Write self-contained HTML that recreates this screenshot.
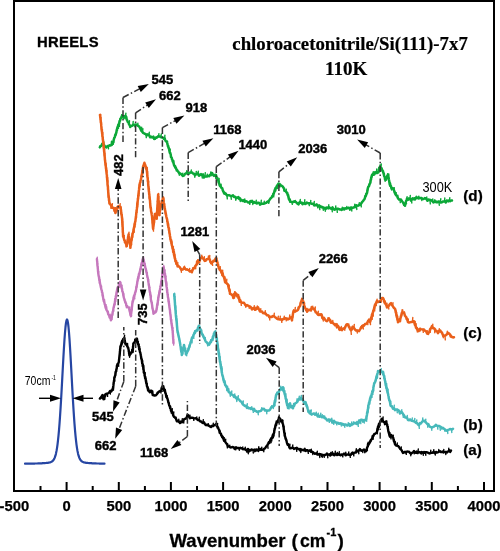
<!DOCTYPE html>
<html><head><meta charset="utf-8"><style>
html,body{margin:0;padding:0;background:#fff;}
svg{display:block;filter:blur(0.3px);}
text{font-family:"Liberation Sans",Arial,sans-serif;}
.serif{font-family:"Liberation Serif","Times New Roman",serif;}
</style></head><body>
<svg width="500" height="551" viewBox="0 0 500 551">
<rect x="0" y="0" width="500" height="551" fill="#fff"/>
<g fill="none" stroke-linejoin="round" stroke-linecap="round">
<path d="M99.8,147.4 L100.4,145.9 L101.0,146.0 L101.6,145.6 L102.2,143.9 L103.4,144.3 L104.6,145.8 L105.4,146.6 L106.2,147.5 L107.0,146.7 L107.8,145.9 L108.6,146.2 L109.4,145.3 L110.6,145.5 L111.8,144.8 L112.3,143.1 L112.9,141.9 L113.4,142.4 L113.7,139.9 L114.0,138.8 L114.3,137.7 L114.6,137.5 L114.9,136.6 L115.2,135.4 L115.5,134.7 L115.8,134.0 L116.0,133.4 L116.3,132.8 L116.5,131.5 L116.8,129.6 L117.0,130.2 L117.2,128.2 L117.5,128.1 L117.7,126.6 L118.0,126.6 L118.2,125.4 L118.5,125.1 L118.7,126.0 L119.0,123.4 L119.3,123.1 L119.5,121.1 L119.8,120.8 L120.1,120.6 L120.3,119.3 L120.6,118.8 L121.4,117.5 L122.2,115.6 L123.8,118.1 L124.6,116.1 L125.4,116.4 L125.7,116.1 L126.0,117.7 L126.4,118.3 L126.7,119.8 L127.0,119.9 L127.8,122.0 L128.6,122.5 L128.9,124.1 L129.2,124.5 L129.6,125.1 L129.9,125.4 L130.2,127.0 L131.0,126.1 L131.8,125.9 L133.4,124.8 L134.2,125.0 L135.0,124.8 L135.8,124.4 L137.0,125.1 L138.2,125.9 L138.8,126.3 L139.4,126.8 L140.0,128.0 L140.6,129.3 L141.4,130.9 L142.2,131.7 L143.0,132.8 L143.8,133.2 L144.6,133.7 L145.4,133.9 L146.2,134.5 L147.0,135.3 L147.8,134.4 L149.0,135.0 L150.2,137.3 L151.0,136.6 L151.8,137.3 L152.6,137.5 L153.4,136.6 L154.2,138.9 L155.0,138.8 L155.8,137.6 L156.6,137.7 L157.4,137.1 L158.2,136.2 L159.0,136.4 L159.8,136.4 L161.0,137.2 L162.2,137.4 L163.0,137.6 L163.8,138.8 L164.6,138.2 L165.2,140.0 L165.8,141.2 L166.4,141.4 L167.0,141.5 L167.2,142.8 L167.5,144.3 L167.8,145.2 L168.0,146.6 L168.2,146.0 L168.5,147.4 L168.8,148.6 L169.0,148.9 L169.2,148.5 L169.5,151.2 L169.8,152.8 L170.0,153.0 L170.2,152.7 L170.5,153.9 L170.8,155.1 L171.0,157.2 L171.3,157.1 L171.7,157.7 L172.0,159.5 L172.3,159.5 L172.7,161.5 L173.0,161.0 L173.3,162.1 L173.7,163.7 L174.0,165.0 L174.3,165.5 L174.7,166.2 L175.0,166.0 L175.7,167.7 L176.3,168.8 L177.0,169.9 L177.7,171.3 L178.3,171.6 L179.0,173.0 L180.0,173.4 L181.0,174.0 L182.0,175.1 L183.0,176.0 L184.0,175.5 L185.0,173.9 L186.0,173.5 L187.0,172.3 L188.0,173.8 L189.0,173.6 L190.0,172.5 L191.0,172.6 L192.0,172.4 L193.0,173.5 L194.0,173.8 L195.0,175.2 L196.0,174.3 L197.0,174.0 L198.0,173.4 L199.0,175.8 L200.0,175.1 L201.0,174.1 L202.0,175.1 L203.0,174.4 L204.0,177.5 L205.0,176.4 L206.0,176.5 L207.0,176.4 L208.0,175.7 L209.0,176.3 L210.0,174.9 L210.7,175.3 L211.3,173.0 L212.0,172.9 L213.0,174.9 L214.0,175.9 L215.0,174.7 L216.0,174.9 L216.4,177.1 L216.8,178.0 L217.2,177.8 L217.6,178.8 L218.0,179.6 L218.3,180.2 L218.7,181.3 L219.0,183.2 L219.3,183.8 L219.7,185.4 L220.0,185.0 L220.3,185.8 L220.7,186.2 L221.0,187.5 L221.6,187.7 L222.2,188.2 L222.8,190.4 L223.4,191.6 L224.0,192.1 L224.6,193.1 L225.2,193.3 L225.8,193.6 L226.4,194.8 L227.0,195.4 L228.0,195.2 L229.0,195.2 L230.0,195.6 L231.0,196.1 L232.0,196.0 L233.0,195.3 L234.0,196.9 L235.0,196.8 L236.0,197.5 L236.8,198.2 L237.6,197.4 L238.4,197.1 L239.2,198.9 L240.0,198.4 L240.8,200.0 L241.6,199.9 L242.4,200.8 L243.2,201.1 L244.0,200.0 L244.8,201.8 L245.6,201.1 L246.4,201.3 L247.2,201.6 L248.0,202.4 L248.8,202.5 L249.6,202.6 L250.4,201.1 L251.2,201.7 L252.0,200.7 L252.8,202.1 L253.6,202.7 L254.4,202.1 L255.2,202.8 L256.0,202.9 L256.8,203.5 L257.6,202.7 L258.4,202.8 L259.2,203.0 L260.0,204.6 L260.8,204.2 L261.6,203.5 L262.4,203.7 L263.2,203.7 L264.0,203.7 L265.0,203.2 L266.0,202.9 L267.0,202.1 L267.7,201.6 L268.3,202.1 L269.0,200.7 L269.7,199.6 L270.3,198.7 L271.0,198.0 L271.7,197.4 L272.3,196.0 L273.0,195.7 L273.4,194.8 L273.8,193.3 L274.2,192.3 L274.6,191.2 L275.0,190.2 L275.3,190.5 L275.7,187.9 L276.0,188.3 L276.3,187.3 L276.7,186.5 L277.0,186.1 L277.5,185.8 L278.0,184.4 L278.5,183.5 L279.3,183.8 L280.2,184.6 L281.0,185.7 L281.7,185.8 L282.3,186.2 L283.0,186.9 L283.5,187.8 L284.0,188.4 L284.5,190.6 L285.0,191.0 L286.0,191.5 L287.0,193.2 L287.2,192.8 L287.5,194.4 L287.8,195.2 L288.0,194.7 L288.2,195.5 L288.5,196.7 L288.8,198.5 L289.0,199.5 L289.7,199.2 L290.3,201.5 L291.0,201.8 L291.8,201.9 L292.6,201.9 L293.4,202.1 L294.2,201.3 L295.0,201.8 L295.8,201.8 L296.7,202.8 L297.5,203.8 L298.3,204.3 L299.2,202.6 L300.0,201.9 L300.8,202.8 L301.7,202.6 L302.5,204.3 L303.3,203.6 L304.2,203.0 L305.0,204.0 L305.8,203.8 L306.7,202.5 L307.5,203.1 L308.3,203.2 L309.2,203.3 L310.0,203.3 L310.8,203.3 L311.7,203.8 L312.5,203.7 L313.3,203.8 L314.2,205.4 L315.0,205.0 L315.8,205.3 L316.7,204.4 L317.5,205.5 L318.3,206.3 L319.2,205.4 L320.0,207.0 L320.8,206.4 L321.7,207.2 L322.5,207.1 L323.3,207.6 L324.2,208.4 L325.0,207.8 L325.8,208.9 L326.7,207.6 L327.5,207.5 L328.3,208.4 L329.2,207.4 L330.0,207.8 L330.8,208.6 L331.7,208.9 L332.5,207.4 L333.3,208.8 L334.2,209.7 L335.0,209.5 L335.8,208.8 L336.7,208.7 L337.5,209.0 L338.3,208.7 L339.2,209.3 L340.0,209.5 L340.8,209.4 L341.7,210.0 L342.5,209.1 L343.3,208.3 L344.2,209.5 L345.0,208.2 L345.8,208.4 L346.7,208.5 L347.5,208.2 L348.3,207.7 L349.2,208.0 L350.0,209.2 L350.8,207.4 L351.7,207.5 L352.5,208.0 L353.3,207.6 L354.2,207.3 L355.0,207.2 L356.0,205.2 L357.0,205.5 L358.0,205.7 L359.0,205.1 L360.0,204.9 L361.0,203.7 L362.0,202.2 L363.0,201.2 L363.5,200.3 L364.0,199.7 L364.5,199.1 L365.0,197.7 L365.2,196.6 L365.5,195.8 L365.8,196.0 L366.0,195.3 L366.5,194.1 L367.0,192.9 L367.2,192.0 L367.4,190.6 L367.6,190.1 L367.8,188.3 L368.0,187.9 L368.5,186.5 L369.0,186.2 L369.5,184.4 L370.0,183.5 L370.2,182.9 L370.4,182.6 L370.6,180.5 L370.8,179.6 L371.0,179.7 L371.2,177.6 L371.5,177.6 L371.8,176.0 L372.0,175.3 L373.0,173.8 L374.0,174.7 L375.0,173.2 L376.0,172.1 L377.0,173.2 L378.0,171.9 L378.5,172.4 L379.0,169.5 L379.5,168.3 L380.0,167.8 L381.0,168.0 L381.5,168.2 L382.0,169.6 L382.5,170.7 L383.0,171.0 L383.2,172.4 L383.5,172.9 L383.8,173.3 L384.0,175.3 L384.2,176.1 L384.4,176.6 L384.6,176.9 L384.8,177.2 L385.0,179.5 L386.0,179.7 L386.3,177.9 L386.7,177.9 L387.0,176.1 L387.5,175.9 L388.0,174.9 L388.2,175.9 L388.3,176.8 L388.5,177.6 L388.7,177.8 L388.8,179.2 L389.0,180.0 L389.2,181.0 L389.4,182.2 L389.6,183.3 L389.8,184.7 L390.0,183.3 L390.5,185.7 L391.0,186.2 L391.5,188.4 L392.0,188.5 L393.0,188.2 L394.0,190.4 L394.2,190.7 L394.5,192.4 L394.8,192.1 L395.0,193.4 L395.5,194.3 L396.0,195.1 L396.5,195.6 L397.0,195.8 L398.0,198.2 L399.0,199.6 L400.0,199.5 L401.0,199.5 L402.0,201.3 L403.0,202.6 L403.5,203.3 L404.0,204.5 L405.0,205.8 L405.3,203.5 L405.7,202.9 L406.0,201.2 L406.2,201.1 L406.5,200.2 L406.8,199.3 L407.0,198.6 L408.0,199.8 L409.0,198.4 L410.0,198.9 L411.0,200.7 L411.8,199.3 L412.6,198.2 L413.4,199.2 L414.2,198.3 L415.0,199.5 L415.8,197.8 L416.7,198.1 L417.5,197.5 L418.3,198.4 L419.2,197.7 L420.0,198.2 L420.8,198.1 L421.7,198.0 L422.5,198.9 L423.3,199.0 L424.2,198.6 L425.0,198.1 L425.8,198.3 L426.7,199.4 L427.5,200.8 L428.3,199.5 L429.2,199.7 L430.0,200.0 L430.8,200.1 L431.7,200.5 L432.5,201.2 L433.3,202.4 L434.2,201.9 L435.0,201.9 L435.8,201.3 L436.7,202.3 L437.5,202.2 L438.3,201.5 L439.2,201.6 L440.0,202.2 L440.8,202.6 L441.7,202.3 L442.5,201.9 L443.3,201.4 L444.2,201.6 L445.0,201.3 L445.8,202.4 L446.7,200.4 L447.5,200.6 L448.3,201.4 L449.2,200.4 L450.0,201.2 L451.0,200.4 L452.0,200.4" stroke="#0ca838" stroke-width="2.5"/>
<path d="M103.4,145.0L103.7,141.5M108.2,146.2L108.5,148.8M111.2,144.4L111.5,141.3M113.1,141.5L113.4,144.3M114.8,136.9L115.1,134.3M116.1,132.8L116.4,134.8M117.0,129.8L117.3,127.1M117.6,127.8L117.9,124.5M118.2,125.8L118.5,128.3M119.2,122.7L119.5,126.2M119.7,121.2L120.0,118.5M121.4,117.4L121.7,114.6M125.6,115.9L125.9,113.1M126.5,118.6L126.8,116.7M129.2,124.1L129.5,120.8M132.9,125.0L133.2,121.4M134.6,124.6L134.9,126.9M137.6,125.4L137.9,123.2M141.4,130.1L141.7,127.2M142.6,131.7L142.9,128.7M146.0,134.0L146.3,137.6M149.0,135.4L149.3,132.3M153.8,137.4L154.1,139.4M158.6,136.6L158.9,133.6M161.0,136.6L161.3,134.0M164.6,138.6L164.9,135.3M167.5,144.0L167.8,146.8M168.8,148.5L169.1,150.6M169.9,152.1L170.2,149.5M170.7,154.8L171.0,156.8M172.5,159.9L172.8,161.9M173.5,162.9L173.8,160.6M174.3,165.0L174.6,167.8M176.0,168.6L176.3,170.9M179.0,172.6L179.3,175.2M182.5,175.4L182.8,173.2M186.5,173.4L186.8,170.7M191.0,172.9L191.3,170.0M194.5,173.8L194.8,177.3M196.0,174.2L196.3,171.4M198.0,174.7L198.3,171.2M202.0,175.0L202.3,178.0M205.0,175.8L205.3,172.6M207.0,176.5L207.3,174.1M210.5,175.2L210.8,172.0M215.5,175.6L215.8,178.3M218.0,180.0L218.3,182.4M218.8,182.0L219.1,178.4M219.4,183.5L219.7,186.3M220.8,187.1L221.1,184.1M223.2,190.6L223.6,193.8M224.4,192.1L224.7,194.4M227.0,195.6L227.3,198.9M231.0,196.1L231.3,199.2M235.5,196.9L235.8,200.3M240.0,198.8L240.3,201.5M244.5,201.3L244.8,199.0M249.5,202.0L249.8,204.4M252.5,202.1L252.8,204.5M256.0,202.8L256.3,200.2M261.0,203.6L261.3,200.3M264.0,203.6L264.3,201.2M268.5,201.0L268.8,203.3M272.5,196.2L272.8,193.7M273.4,194.5L273.7,196.9M274.1,192.9L274.4,189.3M275.0,190.8L275.3,187.7M276.3,187.6L276.6,185.3M277.4,185.4L277.7,188.5M279.5,184.2L279.8,187.1M284.0,189.2L284.3,191.2M286.0,191.6L286.3,189.2M288.2,196.1L288.5,198.1M289.3,199.3L289.6,202.0M292.0,202.1L292.3,204.4M295.0,202.4L295.3,200.4M298.5,202.8L298.8,204.7M300.0,202.9L300.3,199.5M304.5,203.4L304.8,199.8M309.0,203.3L309.3,205.6M310.5,203.4L310.8,200.4M314.0,204.5L314.3,201.5M317.5,205.6L317.8,207.9M319.5,206.2L319.8,209.6M323.0,207.4L323.3,210.3M325.0,208.0L325.3,211.2M328.5,208.0L328.8,204.7M332.0,208.3L332.3,211.8M335.5,208.9L335.8,205.9M337.0,209.1L337.3,212.4M342.0,209.3L342.3,207.2M346.5,208.6L346.8,206.5M349.5,208.1L349.8,210.2M351.5,207.6L351.8,211.0M354.5,206.8L354.8,204.1M356.5,206.1L356.8,209.5M359.0,204.9L359.3,202.7M361.0,203.4L361.3,206.9M364.7,198.4L365.0,196.2M365.5,196.2L365.8,193.5M367.0,192.4L367.3,189.6M367.5,190.2L367.8,187.0M368.8,186.4L369.1,184.0M370.4,181.9L370.7,179.5M371.3,178.1L371.6,174.6M373.0,174.9L373.3,171.6M374.5,173.9L374.8,171.6M376.5,172.3L376.8,168.9M378.5,170.4L378.8,167.1M379.7,168.2L380.0,164.9M381.0,167.1L381.3,164.0M381.8,168.8L382.1,171.1M383.2,172.1L383.5,174.4M383.7,173.7L384.0,175.7M384.9,178.6L385.2,181.3M387.2,176.4L387.6,173.8M388.5,177.3L388.8,174.0M389.5,182.5L389.8,186.2M391.3,186.9L391.6,190.0M394.0,190.2L394.3,187.7M396.0,195.2L396.3,192.7M397.5,197.4L397.8,195.2M400.0,199.6L400.3,202.6M403.5,203.4L403.8,205.4M406.2,201.8L406.5,203.8M406.8,199.6L407.1,196.6M410.0,199.0L410.3,195.4M411.5,199.4L411.8,203.0M416.0,198.5L416.3,196.1M418.5,198.3L418.8,196.1M421.5,198.3L421.8,200.5M426.5,199.1L426.8,197.0M430.0,200.4L430.3,203.9M432.5,201.3L432.8,198.9M434.5,202.0L434.8,199.8M439.0,202.2L439.3,205.2M440.5,202.1L440.8,198.6M444.5,201.4L444.8,198.0M449.5,200.5L449.8,197.6" stroke="#0ca838" stroke-width="1.4"/>
<path d="M100.0,115.0 L100.1,114.9 L100.2,116.8 L100.3,117.3 L100.4,117.9 L100.5,119.6 L100.6,119.9 L100.7,120.5 L100.8,122.5 L100.9,122.0 L101.0,122.3 L101.1,123.1 L101.2,124.4 L101.3,125.9 L101.4,126.8 L101.5,127.8 L101.5,129.0 L101.6,129.7 L101.7,129.9 L101.8,131.1 L101.9,131.5 L102.0,131.6 L102.1,133.3 L102.2,133.6 L102.3,134.3 L102.4,136.4 L102.5,136.5 L102.6,136.5 L102.7,137.6 L102.8,139.8 L102.9,139.1 L103.0,140.5 L103.1,141.2 L103.2,141.9 L103.2,142.8 L103.3,142.9 L103.4,143.8 L103.5,144.7 L103.6,145.4 L103.6,146.9 L103.7,148.2 L103.8,147.5 L103.9,149.2 L104.0,149.0 L104.0,150.0 L104.1,151.1 L104.2,152.1 L104.3,152.6 L104.4,152.1 L104.4,155.3 L104.5,155.1 L104.6,155.6 L104.7,157.2 L104.8,157.3 L104.8,157.6 L104.9,159.5 L105.0,160.3 L105.1,160.3 L105.2,162.2 L105.3,162.7 L105.4,162.6 L105.5,165.1 L105.6,165.0 L105.7,165.0 L105.8,166.8 L105.9,167.4 L106.0,168.7 L106.1,168.1 L106.2,170.3 L106.3,171.1 L106.4,171.7 L106.5,172.5 L106.6,173.7 L106.7,174.2 L106.8,174.6 L106.9,174.8 L106.9,176.8 L107.0,177.6 L107.1,178.0 L107.1,178.7 L107.2,179.9 L107.3,178.8 L107.3,181.3 L107.4,180.4 L107.5,182.9 L107.5,184.2 L107.6,185.5 L107.7,184.9 L107.8,186.3 L107.8,186.8 L107.9,186.3 L108.0,188.9 L108.0,189.3 L108.1,190.2 L108.2,190.4 L108.2,191.7 L108.3,192.6 L108.4,194.2 L108.4,194.4 L108.5,197.1 L108.6,195.6 L108.7,196.6 L108.8,197.6 L108.9,198.0 L109.0,200.2 L109.1,200.6 L109.2,200.3 L109.3,202.0 L109.4,203.5 L109.5,202.8 L110.4,204.6 L111.3,205.3 L112.0,207.7 L112.7,207.5 L113.3,207.9 L114.0,208.7 L114.5,211.1 L115.0,210.5 L115.4,213.1 L115.9,211.7 L116.2,211.6 L116.5,210.7 L116.8,209.5 L117.1,208.9 L117.4,208.5 L117.7,206.8 L118.6,206.1 L119.5,207.4 L120.4,207.2 L120.5,206.8 L120.6,208.2 L120.7,207.3 L120.9,210.4 L121.0,209.8 L121.1,211.1 L121.2,213.6 L121.3,212.4 L121.4,214.0 L121.5,214.2 L121.6,214.6 L121.8,215.8 L121.9,217.5 L122.0,217.4 L122.1,218.7 L122.2,220.4 L122.2,220.6 L122.3,220.8 L122.3,223.3 L122.4,223.3 L122.4,224.9 L122.5,224.2 L122.5,226.7 L122.6,225.6 L122.6,226.2 L122.7,227.8 L122.7,228.7 L122.7,229.9 L122.8,230.2 L122.8,231.7 L122.9,233.0 L122.9,232.6 L123.0,233.0 L123.0,234.4 L123.1,235.9 L123.1,236.7 L123.4,236.9 L123.7,237.5 L124.0,239.0 L124.4,240.5 L124.7,240.4 L125.0,242.5 L125.5,242.8 L125.9,243.7 L126.3,244.0 L126.8,246.1 L126.9,244.5 L127.1,242.8 L127.2,243.3 L127.4,241.7 L127.5,241.8 L127.6,240.4 L127.8,239.1 L127.9,238.7 L128.0,237.5 L128.2,236.4 L128.3,236.1 L128.5,235.8 L128.6,234.5 L128.7,235.2 L128.8,235.8 L129.0,237.3 L129.1,238.0 L129.2,239.2 L129.3,239.7 L129.4,241.6 L129.6,240.3 L129.7,242.0 L129.8,243.2 L129.9,244.3 L130.0,243.7 L130.2,244.7 L130.3,246.3 L130.4,247.8 L130.5,246.9 L130.7,244.5 L130.8,244.7 L131.0,244.5 L131.1,243.0 L131.2,241.5 L131.4,240.8 L131.5,239.6 L131.6,240.3 L131.8,238.6 L131.9,237.6 L132.1,236.5 L132.2,236.1 L132.4,234.9 L132.6,234.0 L132.7,233.7 L132.9,232.8 L133.1,232.4 L133.3,231.4 L133.5,231.2 L133.6,229.6 L133.8,229.0 L134.0,228.2 L134.2,226.7 L134.3,227.1 L134.4,225.2 L134.6,223.7 L134.8,224.6 L134.9,223.4 L135.1,221.9 L135.2,221.9 L135.4,221.1 L135.5,220.1 L135.7,218.2 L135.8,218.1 L135.9,216.6 L136.0,216.0 L136.1,215.2 L136.2,214.3 L136.2,214.2 L136.3,212.7 L136.4,212.7 L136.5,211.6 L136.6,210.3 L136.7,210.0 L136.8,209.5 L136.9,208.9 L137.0,207.3 L137.1,207.7 L137.2,206.1 L137.2,205.7 L137.3,203.4 L137.4,202.7 L137.5,203.3 L137.6,201.6 L137.7,201.2 L137.8,200.8 L137.9,198.4 L138.0,198.7 L138.1,198.8 L138.2,197.3 L138.3,196.1 L138.4,195.5 L138.5,194.4 L138.6,194.0 L138.6,193.5 L138.7,191.8 L138.8,191.5 L138.9,190.5 L139.0,189.9 L139.1,189.2 L139.2,187.2 L139.3,187.8 L139.4,186.8 L139.5,184.8 L139.7,184.4 L139.9,182.9 L140.1,182.8 L140.3,182.4 L140.5,180.7 L140.7,180.1 L140.9,179.2 L141.1,178.5 L141.3,177.7 L141.4,176.7 L141.6,176.8 L141.7,175.5 L141.9,174.3 L142.0,174.6 L142.1,172.8 L142.3,172.8 L142.4,170.7 L142.5,171.5 L142.7,169.5 L142.8,168.4 L143.0,168.4 L143.1,166.5 L143.4,165.8 L143.6,165.6 L143.9,164.3 L144.1,163.9 L144.4,162.8 L144.7,163.8 L145.1,164.6 L145.4,165.9 L145.7,166.3 L146.0,167.9 L146.4,168.7 L146.7,167.8 L146.8,168.8 L146.9,171.6 L146.9,171.2 L147.0,172.4 L147.1,173.1 L147.2,174.2 L147.3,176.1 L147.4,175.2 L147.4,176.5 L147.5,177.3 L147.6,177.5 L147.7,178.4 L147.8,179.6 L147.8,180.6 L147.9,181.7 L148.0,181.1 L148.1,182.1 L148.2,184.9 L148.3,184.6 L148.3,186.1 L148.4,186.1 L148.5,186.8 L148.6,189.3 L148.7,188.1 L148.8,189.2 L148.8,190.9 L148.9,191.4 L149.0,191.2 L149.1,193.1 L149.2,194.3 L149.3,193.8 L149.4,195.2 L149.4,196.8 L149.5,198.3 L149.6,196.6 L149.7,198.4 L149.8,199.6 L149.9,199.9 L150.0,200.7 L150.1,201.8 L150.1,203.2 L150.2,203.1 L150.3,205.1 L150.4,205.9 L150.5,206.8 L150.6,208.0 L150.8,207.6 L150.9,208.8 L151.0,210.2 L151.1,211.2 L151.2,211.9 L151.4,211.9 L151.5,212.7 L151.6,213.0 L151.7,214.4 L151.8,215.0 L152.0,216.0 L152.1,217.0 L152.2,218.5 L152.3,219.4 L152.3,219.7 L152.4,219.9 L152.5,221.4 L152.5,222.5 L152.6,223.6 L152.7,224.1 L152.8,225.3 L152.8,225.2 L152.9,226.9 L153.0,227.8 L153.0,228.0 L153.1,228.6 L153.2,228.9 L153.3,226.8 L153.4,227.0 L153.5,225.6 L153.6,224.8 L153.7,224.0 L153.8,223.1 L153.9,222.5 L154.0,222.8 L154.1,221.8 L154.2,220.0 L154.3,219.6 L154.4,219.0 L154.5,217.4 L154.6,218.0 L154.7,216.1 L154.8,215.6 L154.9,213.9 L155.3,214.7 L155.8,215.6 L156.2,216.7 L156.7,218.6 L156.8,217.0 L156.8,216.9 L156.9,215.3 L156.9,214.2 L157.0,214.1 L157.0,212.9 L157.1,211.4 L157.1,211.6 L157.2,211.4 L157.2,209.8 L157.3,208.4 L157.3,207.8 L157.4,206.8 L157.4,206.5 L157.5,205.3 L157.5,205.0 L157.6,204.3 L157.6,204.2 L157.7,201.9 L157.7,200.6 L157.8,202.0 L157.8,200.5 L157.9,199.2 L157.9,198.9 L158.0,197.2 L158.0,196.7 L158.1,196.5 L158.1,195.1 L158.2,194.6 L158.2,195.6 L158.3,196.3 L158.3,196.9 L158.4,198.1 L158.4,199.5 L158.5,200.3 L158.5,199.8 L158.6,201.6 L158.7,200.8 L158.7,202.0 L158.8,203.9 L158.8,204.8 L158.8,206.1 L158.9,205.1 L158.9,207.6 L159.0,207.5 L159.1,208.3 L159.1,209.7 L159.2,211.1 L159.2,210.5 L159.2,210.9 L159.3,212.4 L159.3,213.5 L159.4,215.1 L159.5,213.8 L159.7,212.6 L159.8,211.6 L160.0,210.8 L160.1,210.8 L160.2,208.4 L160.4,208.2 L160.5,207.3 L160.6,207.6 L160.8,206.2 L160.9,204.9 L161.1,204.9 L161.2,204.8 L161.5,203.3 L161.8,201.0 L162.1,200.7 L162.5,200.6 L162.8,198.0 L163.1,197.4 L163.2,198.7 L163.4,200.1 L163.5,200.2 L163.6,201.6 L163.7,202.3 L163.9,203.4 L164.0,203.4 L164.1,203.6 L164.3,204.5 L164.4,206.7 L164.5,208.0 L164.6,208.6 L164.8,208.2 L164.9,209.0 L165.1,210.6 L165.3,211.1 L165.4,211.3 L165.6,212.9 L165.8,213.5 L166.0,214.7 L166.2,215.8 L166.3,216.5 L166.5,217.3 L166.7,218.3 L166.9,218.8 L167.1,219.3 L167.2,220.2 L167.4,221.9 L167.6,221.8 L167.7,223.3 L167.9,224.6 L168.0,225.4 L168.1,223.9 L168.3,226.1 L168.4,227.4 L168.5,227.3 L168.7,228.0 L168.8,228.4 L168.9,229.6 L169.1,230.8 L169.2,230.5 L169.4,232.4 L169.5,232.7 L169.6,234.0 L169.8,234.2 L169.9,235.7 L170.0,236.5 L170.2,236.8 L170.3,237.6 L170.5,239.4 L170.7,240.0 L170.8,239.9 L171.0,241.5 L171.2,241.3 L171.4,242.5 L171.6,241.9 L171.7,244.1 L171.9,245.6 L172.1,245.7 L172.3,247.2 L172.5,247.2 L172.6,248.6 L172.8,249.1 L173.0,249.4 L173.2,252.1 L173.4,251.2 L173.6,251.8 L173.8,253.5 L174.0,254.6 L174.2,255.4 L174.4,256.0 L174.6,257.2 L174.8,258.3 L175.0,259.0 L175.2,258.7 L175.4,261.4 L175.6,261.2 L176.0,260.8 L176.4,263.3 L176.8,263.5 L177.2,264.6 L177.6,266.4 L178.0,265.7 L178.9,266.5 L179.8,267.2 L180.7,268.8 L181.6,270.0 L182.5,269.5 L183.4,269.1 L184.3,267.4 L185.2,268.6 L186.1,269.7 L187.0,269.3 L187.9,269.9 L188.8,270.2 L190.0,271.6 L191.2,271.1 L191.8,272.3 L192.4,270.3 L193.0,269.3 L193.6,268.1 L194.2,268.3 L194.8,267.8 L195.3,266.0 L195.8,265.6 L196.3,264.8 L196.9,264.4 L197.4,263.3 L197.9,262.8 L198.4,260.4 L199.3,261.9 L200.2,259.1 L201.1,257.8 L202.0,257.1 L202.9,258.4 L203.8,259.3 L204.7,260.9 L205.6,260.7 L206.5,259.3 L207.4,259.2 L208.3,258.8 L209.2,258.5 L209.6,259.5 L210.0,260.0 L210.4,261.9 L210.8,262.2 L211.2,263.2 L211.6,263.5 L212.2,262.0 L212.8,262.1 L213.4,260.7 L214.0,261.2 L214.8,260.3 L215.6,258.5 L216.4,258.2 L216.6,259.3 L216.9,260.4 L217.1,262.0 L217.4,262.1 L217.6,263.3 L217.8,263.7 L218.1,264.6 L218.3,266.3 L218.6,266.4 L218.8,268.4 L219.3,268.0 L219.8,269.2 L220.3,270.0 L220.9,271.0 L221.4,272.6 L221.9,271.9 L222.4,272.9 L222.7,273.5 L223.1,276.0 L223.4,276.1 L223.8,276.9 L224.1,277.8 L224.5,277.3 L224.8,279.7 L224.9,280.1 L224.9,281.0 L225.0,281.7 L226.0,282.6 L227.0,283.7 L228.0,284.5 L228.2,285.5 L228.4,286.8 L228.6,286.0 L228.8,288.5 L229.0,289.2 L229.2,289.0 L229.4,290.7 L229.6,291.4 L229.8,291.7 L230.0,293.8 L231.0,294.1 L232.0,295.1 L232.7,295.2 L233.3,298.1 L234.0,297.7 L234.1,297.0 L234.3,295.9 L234.4,296.4 L234.6,294.3 L234.7,294.5 L234.9,293.4 L235.0,292.6 L236.0,293.6 L237.0,295.1 L237.4,295.1 L237.8,294.8 L238.2,295.2 L238.6,298.3 L239.0,297.2 L239.3,300.0 L239.7,301.8 L240.0,299.7 L241.0,302.0 L242.0,302.7 L243.0,302.8 L244.0,302.8 L245.0,304.4 L246.0,305.8 L247.0,305.1 L248.0,305.6 L249.0,306.1 L250.0,306.4 L251.0,307.4 L252.0,309.4 L253.0,308.3 L254.0,308.0 L255.0,309.8 L256.0,309.3 L257.0,308.5 L258.0,307.2 L258.7,309.0 L259.3,309.9 L260.0,311.5 L261.0,311.5 L262.0,311.4 L263.0,313.1 L264.0,313.3 L265.0,312.8 L266.0,314.2 L267.0,315.3 L268.0,315.2 L268.7,315.8 L269.3,317.2 L270.0,317.2 L271.0,316.7 L272.0,316.9 L273.0,315.9 L274.0,316.2 L275.0,317.2 L276.0,317.8 L277.0,318.7 L278.0,319.3 L279.0,319.3 L280.0,319.5 L281.0,319.2 L282.0,320.1 L283.0,319.0 L284.0,318.9 L285.0,318.1 L286.0,318.5 L287.0,318.6 L288.0,319.4 L289.0,318.9 L290.0,317.8 L290.7,317.5 L291.3,317.3 L292.0,320.4 L292.1,318.2 L292.3,318.2 L292.4,317.5 L292.6,317.2 L292.7,315.3 L292.9,314.5 L293.0,313.3 L293.2,313.0 L293.5,311.3 L293.8,311.5 L294.0,310.6 L295.0,311.6 L296.0,311.0 L297.0,310.6 L298.0,309.7 L298.5,308.7 L299.0,307.2 L299.5,306.6 L300.0,306.0 L300.2,305.4 L300.4,304.9 L300.6,303.0 L300.8,302.6 L301.0,302.0 L301.3,301.3 L301.7,300.2 L302.0,299.3 L302.3,299.8 L302.7,300.8 L303.0,301.5 L303.3,301.4 L303.6,302.9 L303.9,302.8 L304.1,305.3 L304.4,306.4 L304.7,306.5 L305.0,307.7 L305.7,308.8 L306.3,309.6 L307.0,311.7 L308.0,310.3 L309.0,310.2 L310.0,309.6 L311.0,310.4 L312.0,307.8 L313.0,308.5 L313.7,308.4 L314.3,309.6 L315.0,310.3 L315.7,312.3 L316.3,312.3 L317.0,313.4 L318.0,314.6 L319.0,315.1 L320.0,314.2 L321.0,315.0 L321.4,314.4 L321.8,315.1 L322.2,317.2 L322.6,317.3 L323.0,318.7 L324.0,317.9 L325.0,319.4 L326.0,320.7 L327.0,321.3 L327.7,320.5 L328.3,319.8 L329.0,318.4 L329.4,319.5 L329.8,320.1 L330.2,320.0 L330.6,321.3 L331.0,322.8 L332.0,321.9 L333.0,323.1 L334.0,324.0 L335.0,325.2 L336.0,324.2 L337.0,327.4 L338.0,325.9 L339.0,327.6 L340.0,329.9 L341.0,328.4 L342.0,330.2 L343.0,328.6 L344.0,328.8 L345.0,327.7 L345.7,326.1 L346.3,324.8 L347.0,324.2 L347.7,324.5 L348.3,325.2 L349.0,327.0 L349.4,326.8 L349.8,328.6 L350.2,329.2 L350.6,329.9 L351.0,330.2 L351.4,329.3 L351.8,329.7 L352.2,327.9 L352.6,327.3 L353.0,326.7 L354.0,328.0 L355.0,329.6 L356.0,330.4 L357.0,330.5 L358.0,330.8 L359.0,331.2 L359.7,329.9 L360.3,329.1 L361.0,327.4 L361.7,327.7 L362.3,326.0 L363.0,325.4 L364.0,325.7 L365.0,324.1 L366.0,323.9 L367.0,323.3 L367.7,321.7 L368.3,320.8 L369.0,319.6 L369.5,320.9 L370.0,322.1 L370.3,321.5 L370.6,320.5 L370.9,319.1 L371.1,317.7 L371.4,317.5 L371.7,316.7 L372.0,314.4 L372.2,314.9 L372.5,313.2 L372.8,312.9 L373.0,312.3 L373.2,311.0 L373.5,310.5 L373.8,310.0 L374.0,308.6 L374.2,308.8 L374.4,307.9 L374.6,307.0 L374.8,305.2 L375.0,304.9 L375.4,304.0 L375.8,303.5 L376.2,303.1 L376.6,301.5 L377.0,301.0 L378.0,302.0 L379.0,301.8 L380.0,301.2 L381.0,299.6 L382.0,298.0 L383.0,298.0 L383.3,298.9 L383.7,299.4 L384.0,301.6 L384.3,301.0 L384.7,301.1 L385.0,302.7 L385.7,303.7 L386.3,305.2 L387.0,307.5 L388.0,305.7 L389.0,305.7 L390.0,304.0 L391.0,303.1 L391.7,304.3 L392.3,305.6 L393.0,306.5 L394.0,308.0 L395.0,308.8 L395.3,309.6 L395.7,310.9 L396.0,312.9 L396.2,312.5 L396.3,314.5 L396.5,315.8 L396.7,315.1 L396.8,316.9 L397.0,317.7 L397.2,316.4 L397.4,319.3 L397.6,320.0 L397.8,319.9 L398.0,322.3 L399.0,319.8 L400.0,321.2 L400.2,319.8 L400.4,318.2 L400.6,318.1 L400.8,316.3 L401.0,316.8 L401.2,315.9 L401.4,315.5 L401.6,314.8 L401.8,312.8 L402.0,312.7 L403.0,312.8 L404.0,312.3 L405.0,315.8 L406.0,317.1 L406.3,317.3 L406.6,319.0 L406.9,318.8 L407.1,318.6 L407.4,320.1 L407.7,321.0 L408.0,322.2 L409.0,322.6 L410.0,322.3 L410.7,322.1 L411.3,321.9 L412.0,321.9 L413.0,321.2 L414.0,321.2 L414.3,322.5 L414.7,324.2 L415.0,325.1 L415.3,324.6 L415.7,326.4 L416.0,327.6 L416.4,328.1 L416.8,327.8 L417.2,329.6 L417.6,329.7 L418.0,330.5 L418.7,331.2 L419.3,329.2 L420.0,328.7 L421.0,329.1 L422.0,329.4 L423.0,329.4 L424.0,329.6 L425.0,330.8 L426.0,331.2 L426.7,332.6 L427.3,333.7 L428.0,333.9 L428.3,333.5 L428.7,332.4 L429.0,332.4 L429.3,332.1 L429.7,331.2 L430.0,330.1 L430.7,328.4 L431.3,327.8 L432.0,326.0 L433.0,328.3 L434.0,328.3 L435.0,329.2 L436.0,331.0 L436.7,331.3 L437.3,331.6 L438.0,333.1 L439.0,331.4 L440.0,330.3 L441.0,331.8 L442.0,332.7 L442.7,334.4 L443.3,336.0 L444.0,335.9 L445.0,335.5 L446.0,335.1 L446.7,334.4 L447.3,334.1 L448.0,332.8 L449.0,333.5 L450.0,334.4 L451.0,336.2 L452.0,337.0 L453.0,337.4 L454.0,337.2" stroke="#ea601b" stroke-width="2.5"/>
<path d="M100.3,117.5L100.6,114.4M100.7,121.0L101.0,117.3M101.0,123.5L101.3,126.5M101.2,125.0L101.5,128.8M101.8,130.0L102.1,132.7M102.2,133.0L102.5,129.7M102.5,135.5L102.8,132.5M103.0,140.0L103.3,137.5M103.2,142.0L103.5,144.5M103.7,146.5L104.0,142.8M103.8,148.0L104.1,150.5M104.3,153.0L104.6,149.3M104.7,156.5L105.0,153.6M104.9,159.0L105.2,161.9M105.1,161.0L105.4,163.5M105.4,163.5L105.7,166.0M105.7,166.0L106.0,163.4M106.0,168.0L106.3,164.9M106.2,170.0L106.5,167.8M106.6,172.5L106.9,174.5M106.7,174.0L107.0,170.2M107.1,178.0L107.4,180.9M107.3,181.0L107.6,177.3M107.5,183.0L107.8,180.7M107.9,187.5L108.2,189.7M108.2,191.5L108.5,194.6M108.5,194.5L108.8,197.3M108.7,197.0L109.0,200.9M109.2,201.1L109.5,199.0M110.7,204.8L111.0,208.4M112.1,206.4L112.4,203.6M114.5,210.0L114.8,207.4M115.4,211.6L115.7,207.8M116.8,209.9L117.1,207.0M119.9,206.5L120.2,203.6M120.7,208.3L121.0,210.8M121.3,213.4L121.6,215.9M121.8,216.9L122.1,214.5M122.1,219.4L122.4,222.0M122.3,221.4L122.6,219.0M122.5,225.0L122.8,221.7M122.7,228.6L123.0,231.1M122.8,231.6L123.1,228.2M123.0,234.2L123.3,231.4M124.0,238.7L124.3,235.4M125.8,243.2L126.1,247.0M127.0,244.3L127.3,241.4M127.4,241.7L127.7,238.3M128.0,238.0L128.3,240.8M128.3,236.0L128.6,233.8M128.7,234.9L129.0,232.2M129.3,239.5L129.6,242.5M129.9,243.5L130.2,246.2M130.3,246.6L130.6,244.3M130.8,244.5L131.1,241.9M131.2,242.4L131.5,244.9M131.5,240.4L131.8,237.1M132.0,237.2L132.3,233.5M132.5,234.7L132.8,237.1M133.3,231.1L133.6,227.4M133.9,228.5L134.2,232.2M134.7,224.0L135.0,226.8M135.1,222.0L135.4,224.6M135.7,218.5L136.0,215.4M136.2,214.4L136.5,217.4M136.6,210.4L136.9,212.5M137.0,207.3L137.3,209.7M137.4,203.2L137.7,206.1M137.6,201.7L137.9,204.8M138.2,196.6L138.5,193.4M138.6,193.6L138.9,195.7M138.8,191.0L139.1,193.5M139.3,187.4L139.6,183.7M139.9,183.8L140.2,186.3M141.0,179.1L141.3,175.3M142.0,174.0L142.3,170.1M142.3,171.9L142.6,174.5M142.8,168.8L143.1,172.6M144.1,163.7L144.4,165.9M145.7,166.4L146.0,169.8M146.8,170.5L147.2,167.8M147.3,175.6L147.7,171.7M147.8,180.6L148.2,178.3M148.2,184.7L148.6,181.0M148.4,186.2L148.7,188.3M148.7,188.7L149.0,192.2M149.1,192.8L149.4,189.6M149.6,197.8L149.9,201.7M150.0,201.4L150.3,204.4M150.3,204.9L150.6,208.8M151.0,209.9L151.3,213.2M151.8,215.0L152.1,218.9M152.3,219.5L152.6,223.2M152.6,222.5L152.9,220.0M152.7,224.0L153.0,226.6M152.8,225.5L153.1,221.7M153.2,228.5L153.5,231.1M153.5,225.5L153.8,221.7M154.0,221.4L154.3,223.8M154.6,216.9L154.9,213.9M155.7,215.9L156.0,213.0M156.8,216.5L157.1,218.9M157.0,214.0L157.3,210.3M157.1,212.0L157.4,214.7M157.2,210.5L157.5,214.1M157.5,205.5L157.8,203.3M157.8,201.5L158.1,198.1M157.8,200.0L158.1,203.7M158.1,195.5L158.4,199.0M158.3,196.0L158.6,193.4M158.5,199.1L158.8,196.5M158.8,203.7L159.1,201.3M159.0,208.3L159.3,205.6M159.1,209.8L159.4,205.9M159.3,212.4L159.6,215.5M159.9,211.3L160.2,208.5M160.3,208.7L160.6,205.6M160.6,207.2L160.9,204.6M161.7,202.1L162.0,204.6M162.9,198.6L163.2,200.9M163.3,199.7L163.6,202.4M163.6,201.7L163.9,198.3M164.3,205.9L164.6,208.2M165.1,211.0L165.4,214.1M165.5,212.5L165.8,215.1M166.6,217.5L166.9,221.4M167.7,222.5L168.0,225.0M168.2,225.5L168.5,228.1M168.9,229.5L169.2,232.9M169.2,231.5L169.5,228.2M170.0,236.0L170.3,239.3M170.8,240.0L171.1,243.6M171.4,243.0L171.7,240.0M172.4,247.5L172.7,250.3M173.1,250.5L173.4,246.6M173.7,253.1L174.0,249.3M174.1,254.6L174.4,251.5M174.4,256.1L174.7,252.9M174.8,257.6L175.1,254.8M175.1,259.2L175.4,257.1M175.6,261.2L175.9,264.2M177.5,264.9L177.8,262.5M181.1,269.1L181.4,272.2M184.2,268.7L184.5,266.1M189.4,271.1L189.7,268.4M192.4,270.4L192.7,267.9M195.4,266.2L195.7,268.7M196.3,264.7L196.6,261.0M197.5,262.7L197.8,259.6M201.5,258.1L201.8,255.1M204.1,259.0L204.4,256.7M208.2,259.1L208.5,255.9M209.5,259.3L209.8,255.5M212.3,262.6L212.6,265.4M215.2,259.4L215.5,261.5M217.5,262.5L217.8,266.2M219.1,267.7L219.4,270.4M220.0,269.2L220.3,266.6M221.5,271.7L221.8,275.5M222.4,273.2L222.7,270.1M224.0,277.2L224.3,280.3M224.8,279.2L225.1,282.9M226.5,283.2L226.8,279.3M228.4,286.3L228.7,289.7M228.9,288.3L229.2,285.3M229.4,290.3L229.7,292.5M230.0,292.8L230.3,290.0M233.0,296.4L233.3,293.7M234.5,294.5L234.8,291.8M234.9,292.5L235.2,295.8M236.5,293.8L236.8,296.9M238.2,296.9L238.6,299.2M241.0,301.6L241.3,305.4M245.5,304.6L245.8,307.2M249.0,306.0L249.3,308.3M254.0,309.1L254.3,305.8M255.5,309.5L255.8,307.3M257.0,308.8L257.3,306.0M260.5,311.5L260.8,308.6M265.0,313.9L265.3,310.8M269.5,317.0L269.8,320.0M274.0,316.5L274.3,313.2M278.0,318.7L278.3,316.3M280.0,319.5L280.3,316.1M281.5,319.9L281.8,322.4M284.0,318.4L284.3,316.1M286.0,318.1L286.3,320.8M289.5,317.4L289.8,314.9M292.0,320.0L292.3,316.8M292.6,316.3L292.9,313.4M293.2,313.1L293.5,310.0M295.0,310.8L295.3,307.5M298.0,309.6L298.3,306.9M300.2,304.9L300.6,302.4M301.5,300.4L301.8,298.1M303.2,302.1L303.5,305.2M304.2,305.1L304.5,303.0M305.3,308.1L305.6,310.3M307.5,310.6L307.8,308.5M311.0,309.2L311.3,306.5M312.5,308.6L312.8,306.2M315.0,310.8L315.3,306.9M318.0,314.8L318.3,311.2M321.5,315.0L321.8,318.1M323.0,318.0L323.3,321.0M327.7,320.1L328.0,317.8M330.0,320.0L330.3,322.4M332.5,322.6L332.8,320.5M337.0,326.0L337.3,323.9M338.5,327.2L338.8,329.7M341.0,329.2L341.3,326.5M344.5,327.2L344.8,330.3M348.5,326.2L348.8,324.0M351.0,330.8L351.3,334.4M352.0,328.8L352.3,326.1M354.0,327.6L354.3,324.4M357.0,330.0L357.3,333.0M361.3,327.9L361.6,325.7M363.0,325.2L363.3,329.0M367.5,322.2L367.8,324.6M370.2,321.5L370.5,324.6M371.0,318.8L371.3,316.7M372.0,315.6L372.3,319.2M373.0,312.4L373.3,316.1M373.5,310.8L373.8,306.9M374.4,307.6L374.7,310.9M376.0,303.0L376.3,305.6M376.8,301.5L377.1,299.1M381.0,299.6L381.3,302.1M384.1,300.7L384.4,303.7M386.7,305.5L387.0,303.2M388.5,305.4L388.8,309.0M392.7,306.3L393.0,302.8M395.2,309.7L395.5,313.2M396.1,312.9L396.4,316.3M397.1,317.7L397.4,320.4M397.5,319.2L397.8,321.7M399.0,320.8L399.3,318.7M400.9,316.9L401.2,314.0M401.8,313.4L402.1,309.8M402.5,312.8L402.8,310.0M406.4,317.4L406.7,319.5M408.0,322.0L408.3,319.1M412.5,321.4L412.8,317.5M414.9,324.1L415.2,321.5M415.8,326.3L416.1,323.7M417.0,328.8L417.3,332.0M420.0,328.4L420.3,330.9M423.0,329.2L423.3,332.4M427.0,333.2L427.3,330.7M429.3,331.6L429.6,328.9M430.0,330.0L430.3,332.2M432.5,327.4L432.8,324.3M434.5,329.4L434.8,332.8M437.7,332.7L438.0,330.5M439.0,332.0L439.3,328.6M443.0,334.8L443.3,337.8M445.0,336.0L445.3,339.9M447.0,334.4L447.3,331.3M450.0,334.8L450.3,337.0" stroke="#ea601b" stroke-width="1.4"/>
<path d="M96.9,259.0 L97.0,259.8 L97.1,261.4 L97.1,261.0 L97.2,261.4 L97.3,263.2 L97.4,264.2 L97.4,264.9 L97.5,265.7 L97.6,266.2 L97.7,266.8 L97.7,267.5 L97.8,268.6 L97.9,269.3 L98.0,270.8 L98.0,271.4 L98.1,271.3 L98.2,273.1 L98.3,273.6 L98.5,275.0 L98.6,276.0 L98.8,276.4 L98.9,276.1 L99.0,278.1 L99.2,277.9 L99.3,280.2 L99.4,280.0 L99.6,281.0 L99.7,282.9 L99.9,281.9 L100.0,283.7 L100.2,284.0 L100.5,285.2 L100.7,286.0 L100.9,287.6 L101.1,288.0 L101.3,289.2 L101.6,290.3 L101.8,290.0 L102.0,292.4 L102.1,292.4 L102.3,292.5 L102.5,293.8 L102.6,295.4 L102.8,296.3 L102.9,296.3 L103.1,297.5 L103.3,298.4 L103.4,299.6 L103.6,299.9 L103.8,301.3 L104.1,301.2 L104.3,302.1 L104.6,303.6 L104.8,304.5 L105.1,304.9 L105.3,306.0 L105.6,306.7 L105.8,307.8 L106.1,308.8 L106.3,309.3 L106.7,310.4 L107.1,310.7 L107.5,311.5 L107.8,311.5 L108.2,313.8 L108.6,314.5 L109.0,315.6 L109.4,315.3 L109.8,317.0 L110.1,317.8 L110.5,318.1 L110.9,320.4 L111.1,319.8 L111.3,317.7 L111.5,317.7 L111.7,317.6 L111.9,315.3 L112.1,315.6 L112.3,315.1 L112.5,314.4 L112.7,312.0 L112.9,311.3 L113.0,311.1 L113.2,310.8 L113.4,308.7 L113.5,308.1 L113.7,307.1 L113.8,307.4 L114.0,305.8 L114.2,305.5 L114.3,304.7 L114.5,304.1 L114.7,303.0 L114.8,302.1 L115.0,301.7 L115.1,300.6 L115.2,298.9 L115.4,298.5 L115.5,298.4 L115.7,297.2 L115.8,296.1 L116.0,295.6 L116.2,296.4 L116.3,293.9 L116.5,293.3 L116.6,292.5 L116.8,291.3 L116.9,291.3 L117.0,290.3 L117.2,289.3 L117.6,287.5 L118.0,287.9 L118.4,286.7 L118.7,285.4 L119.1,283.1 L119.5,283.5 L119.9,282.0 L120.2,283.5 L120.5,284.2 L120.8,285.0 L121.2,286.8 L121.5,287.3 L121.8,288.8 L122.0,288.5 L122.2,289.7 L122.3,291.3 L122.5,291.6 L122.7,291.9 L122.9,292.6 L123.1,293.6 L123.2,294.7 L123.4,295.9 L123.6,296.4 L123.8,297.6 L124.1,298.4 L124.3,298.9 L124.6,300.3 L124.8,300.8 L125.1,301.2 L125.3,302.0 L125.6,302.9 L125.8,303.3 L126.1,303.9 L126.3,305.4 L127.2,306.0 L128.1,307.5 L129.0,307.8 L129.2,308.9 L129.4,309.8 L129.5,310.3 L129.7,311.4 L129.9,311.8 L130.1,312.8 L130.3,314.2 L130.4,314.8 L130.6,315.4 L130.8,315.9 L130.9,315.8 L131.0,315.6 L131.1,312.7 L131.2,313.6 L131.3,312.3 L131.4,312.0 L131.5,311.2 L131.6,309.3 L131.7,309.9 L131.8,307.9 L131.9,307.3 L132.0,306.9 L132.1,305.7 L132.2,305.1 L132.3,303.9 L132.4,302.8 L132.5,302.6 L132.6,301.2 L132.9,301.6 L133.1,300.2 L133.4,300.0 L133.6,297.8 L133.9,296.6 L134.1,295.6 L134.4,295.8 L134.6,294.5 L134.9,294.5 L135.1,292.7 L135.4,292.0 L135.6,292.0 L135.7,290.8 L135.8,290.6 L136.0,289.8 L136.2,288.8 L136.3,287.2 L136.4,286.6 L136.6,287.3 L136.8,285.3 L136.9,284.7 L137.1,283.9 L137.2,283.0 L137.3,282.1 L137.5,281.1 L137.7,280.3 L137.8,278.8 L137.9,279.8 L138.1,278.1 L138.3,276.7 L138.5,276.7 L138.7,276.0 L138.9,274.1 L139.1,273.7 L139.3,273.9 L139.6,272.6 L139.8,271.7 L140.0,271.1 L140.2,269.7 L140.4,268.8 L140.6,268.9 L140.8,267.2 L141.0,266.4 L141.2,265.9 L141.4,264.8 L141.6,263.3 L141.8,264.1 L142.0,262.3 L142.2,262.4 L142.4,260.9 L142.6,259.4 L142.8,259.8 L143.0,258.1 L143.2,258.5 L143.4,259.8 L143.7,259.6 L143.9,261.7 L144.1,261.9 L144.3,263.0 L144.5,263.5 L144.7,265.1 L145.0,265.8 L145.2,267.0 L145.4,268.1 L145.6,268.2 L145.8,269.0 L145.9,269.9 L146.1,270.2 L146.3,271.2 L146.5,272.7 L146.7,272.7 L146.8,273.1 L147.0,274.7 L147.2,275.8 L147.4,277.3 L147.6,277.1 L147.7,277.8 L147.9,279.2 L148.1,279.9 L148.2,280.9 L148.3,281.3 L148.5,282.5 L148.6,283.0 L148.7,284.6 L148.8,285.1 L149.0,286.0 L149.1,286.3 L149.2,286.7 L149.3,288.2 L149.4,289.0 L149.6,290.4 L149.7,291.2 L149.8,291.5 L149.9,292.3 L150.1,292.7 L150.2,294.0 L150.3,294.9 L150.4,295.5 L150.6,296.0 L150.7,298.0 L150.8,297.7 L150.9,299.8 L151.1,300.4 L151.2,301.4 L151.4,301.0 L151.5,302.5 L151.7,302.3 L151.8,303.6 L151.9,303.9 L152.1,305.1 L152.2,306.0 L152.4,307.5 L152.5,308.4 L152.6,308.5 L152.8,309.4 L152.9,309.8 L153.1,310.5 L153.2,311.0 L153.4,312.6 L153.5,313.8 L154.4,312.6 L155.3,312.5 L156.2,311.2 L156.3,310.4 L156.5,309.8 L156.6,309.7 L156.7,308.2 L156.9,308.0 L157.0,306.6 L157.1,305.4 L157.3,304.2 L157.4,304.1 L157.5,303.0 L157.7,303.1 L157.8,302.1 L157.9,300.2 L158.1,300.6 L158.2,299.6 L158.3,297.1 L158.5,297.2 L158.6,297.0 L158.7,295.3 L158.9,294.9 L159.0,294.7 L159.2,293.8 L159.3,293.1 L159.4,292.3 L159.6,290.8 L159.8,291.6 L159.9,289.9 L160.0,289.9 L160.2,287.9 L160.3,287.5 L160.5,286.6 L160.7,285.5 L160.8,284.9 L160.9,284.1 L161.1,283.6 L161.2,282.5 L161.4,281.6 L161.5,281.0 L161.7,280.7 L161.8,279.1 L161.9,278.5 L162.1,277.5 L162.2,275.6 L162.3,275.3 L162.4,274.4 L162.5,273.3 L162.7,272.9 L162.8,271.4 L162.9,271.6 L163.0,270.4 L163.1,270.4 L163.3,269.1 L163.4,267.5 L163.5,267.1 L163.7,268.1 L163.8,268.6 L164.0,269.5 L164.2,270.0 L164.3,271.0 L164.5,272.3 L164.6,272.9 L164.8,274.5 L165.0,273.6 L165.1,275.1 L165.3,276.2 L165.4,277.9 L165.5,278.5 L165.6,279.1 L165.7,280.0 L165.8,281.1 L165.9,281.5 L166.0,281.9 L166.1,282.9 L166.2,283.2 L166.3,284.3 L166.4,285.4 L166.5,285.8 L166.6,286.9 L166.7,287.4 L166.8,287.8 L166.9,288.5 L167.0,290.4 L167.1,290.8 L167.2,292.1 L167.4,292.5 L167.5,293.4 L167.6,294.3 L167.7,294.9 L167.9,296.6 L168.0,297.2 L168.1,297.8 L168.2,297.9 L168.4,299.0 L168.5,300.2 L168.6,301.6 L168.7,301.8 L168.9,302.7 L169.0,303.8 L169.1,304.4 L169.2,305.1 L169.3,305.4 L169.4,307.3 L169.5,307.5 L169.6,308.1 L169.7,309.1 L169.8,309.3 L169.9,309.9 L170.0,310.7 L170.1,312.6 L170.2,312.5 L170.3,314.0 L170.4,314.2 L170.5,314.7 L170.6,316.1 L170.7,316.8 L170.8,317.7 L170.9,319.7 L171.0,319.8 L171.2,320.3 L171.3,321.8 L171.4,322.1 L171.5,323.7 L171.6,323.2 L171.8,325.3 L171.9,325.1 L172.0,326.1 L172.1,327.4 L172.2,327.6 L172.4,328.2 L172.5,329.7 L172.6,330.6 L172.7,330.7 L172.7,332.8 L172.8,332.8 L172.8,333.7 L172.9,334.7 L173.0,335.6 L173.0,337.0 L173.1,336.2 L173.1,338.1 L173.2,339.3 L173.3,339.8 L173.3,340.5 L173.4,340.8 L173.4,342.3 L173.5,343.0" stroke="#c678bd" stroke-width="2.4"/>
<path d="M97.0,260.0L97.3,257.1M97.3,263.6L97.6,266.1M97.6,266.6L97.9,268.3M97.8,268.6L98.1,271.2M98.4,273.7L98.7,271.6M99.1,277.9L99.4,280.3M99.7,281.5L100.0,279.8M100.5,285.7L100.8,288.3M101.3,288.7L101.6,286.1M102.4,293.8L102.7,296.1M103.1,297.4L103.4,295.4M103.4,298.9L103.7,300.8M104.3,302.4L104.6,299.8M105.1,305.0L105.4,308.0M105.8,307.5L106.1,304.6M106.5,309.5L106.8,306.9M107.4,311.6L107.7,314.1M109.0,315.3L109.3,318.0M109.8,317.3L110.1,314.2M111.0,319.4L111.3,317.3M111.8,316.2L112.1,319.2M112.4,313.6L112.7,311.0M113.3,309.6L113.6,311.3M113.8,307.0L114.1,304.2M114.8,302.0L115.1,304.6M115.4,298.5L115.7,301.4M115.7,297.0L116.0,299.0M116.5,292.5L116.8,294.5M117.1,289.5L117.4,292.6M119.0,284.7L119.3,287.3M120.6,284.6L120.9,282.2M121.8,288.1L122.1,285.2M122.5,291.2L122.8,293.2M123.6,296.3L123.9,293.9M124.6,299.8L124.9,302.5M125.7,303.3L126.0,305.7M126.1,304.8L126.4,307.8M129.4,310.1L129.8,306.9M130.6,315.2L130.9,316.9M131.2,313.2L131.5,316.4M131.5,310.7L131.8,309.0M131.9,307.2L132.2,309.9M132.4,303.7L132.7,300.7M133.2,299.7L133.5,296.6M134.5,295.6L134.8,298.8M135.5,292.1L135.8,289.9M136.1,289.1L136.4,286.5M136.6,286.1L136.9,283.8M137.3,282.6L137.6,280.4M137.6,280.6L137.9,278.6M138.6,276.0L138.9,278.4M139.5,272.4L139.8,274.1M140.3,269.3L140.6,271.0M140.8,267.2L141.1,269.6M141.5,264.2L141.8,261.1M142.6,259.6L142.9,257.7M143.3,259.1L143.6,257.0M144.1,262.1L144.4,264.7M144.6,264.2L144.9,266.8M145.0,265.7L145.3,263.9M145.8,269.2L146.1,271.0M146.6,272.8L146.9,275.3M147.0,274.8L147.3,272.8M148.0,279.4L148.3,281.3M148.3,281.4L148.6,279.7M148.8,285.0L149.2,287.3M149.5,289.5L149.8,287.5M150.2,294.1L150.5,292.0M150.8,298.1L151.1,295.0M151.1,299.6L151.4,296.5M152.0,304.8L152.3,302.6M152.3,306.8L152.6,309.2M152.7,308.9L153.0,311.6M153.4,313.0L153.7,310.4M156.4,310.2L156.7,308.2M157.1,306.1L157.4,304.1M157.7,302.5L158.0,305.1M158.3,299.0L158.6,296.5M158.8,295.4L159.1,292.4M159.4,292.4L159.7,289.2M159.9,289.4L160.2,292.3M160.9,284.4L161.2,282.4M161.2,282.4L161.5,280.5M161.5,280.9L161.8,283.1M162.1,277.4L162.4,279.9M162.3,275.3L162.6,272.1M162.6,273.3L162.9,275.0M162.9,271.3L163.2,269.0M163.5,267.2L163.8,265.5M163.9,269.2L164.2,266.9M164.3,271.2L164.6,269.5M164.6,272.8L164.9,270.0M165.0,274.8L165.3,277.2M165.7,279.3L166.0,276.3M165.9,281.3L166.2,284.0M166.4,284.8L166.7,281.9M166.5,286.3L166.8,283.8M167.0,289.8L167.3,292.5M167.3,292.3L167.6,289.7M167.6,294.4L167.9,296.8M168.4,299.4L168.7,302.5M168.8,302.5L169.1,305.2M169.1,304.5L169.4,301.6M169.7,309.5L170.0,312.1M169.9,311.0L170.2,313.4M170.4,314.5L170.7,316.3M170.7,317.0L171.0,319.2M171.1,320.0L171.4,321.9M171.3,321.6L171.6,319.5M171.5,323.1L171.8,325.9M172.1,327.1L172.4,329.1M172.5,330.2L172.8,327.4M172.8,333.3L173.1,330.9M172.9,334.8L173.2,337.5M173.1,336.9L173.4,333.9M173.4,342.0L173.7,345.1" stroke="#c678bd" stroke-width="1.4"/>
<path d="M174.2,294.2 L174.3,295.7 L174.3,296.4 L174.4,295.8 L174.5,296.3 L174.5,298.2 L174.6,299.5 L174.7,299.7 L174.7,299.8 L174.8,301.2 L174.9,303.0 L174.9,302.3 L175.0,304.4 L175.0,304.9 L175.1,305.7 L175.2,306.7 L175.2,306.8 L175.3,307.8 L175.4,309.7 L175.4,309.3 L175.5,310.1 L175.6,310.3 L175.6,311.6 L175.7,313.1 L175.8,314.2 L175.9,314.7 L175.9,315.5 L176.0,316.3 L176.1,317.0 L176.2,318.2 L176.3,318.4 L176.3,319.9 L176.4,320.1 L176.5,320.1 L176.6,321.1 L176.7,322.5 L176.8,323.2 L176.8,323.6 L176.9,324.7 L177.0,326.1 L177.1,327.0 L177.2,328.1 L177.2,328.0 L177.3,329.5 L177.4,330.7 L177.6,331.1 L177.7,332.8 L177.9,332.4 L178.1,333.5 L178.2,334.4 L178.4,334.9 L178.6,335.9 L178.8,336.9 L178.9,337.6 L179.1,338.2 L179.3,339.1 L179.4,340.1 L179.6,340.2 L179.7,341.9 L179.9,342.0 L180.0,343.3 L180.2,343.7 L180.3,345.2 L180.4,345.7 L180.6,346.6 L180.7,347.1 L180.8,348.4 L181.0,350.1 L181.1,349.0 L181.2,351.1 L181.4,351.8 L181.5,352.3 L181.7,352.6 L181.8,355.0 L182.0,353.3 L182.2,352.9 L182.5,351.3 L182.7,350.2 L182.9,350.3 L183.1,349.3 L183.3,347.8 L183.6,347.0 L183.8,346.6 L184.0,345.0 L184.2,345.8 L184.4,347.1 L184.6,348.6 L184.8,349.4 L185.1,349.9 L185.3,351.4 L185.5,351.4 L185.7,352.1 L185.9,354.5 L186.1,353.8 L186.5,353.6 L187.0,352.6 L187.4,351.5 L187.9,350.7 L188.3,350.1 L188.6,349.2 L188.9,347.8 L189.1,347.3 L189.4,347.2 L189.7,346.0 L189.9,344.6 L190.2,344.1 L190.5,342.7 L190.8,341.7 L191.1,341.3 L191.3,341.6 L191.6,339.6 L191.9,338.0 L192.1,338.2 L192.4,337.1 L192.7,337.0 L193.1,336.4 L193.6,334.7 L194.0,334.1 L194.5,332.7 L194.9,333.0 L195.9,330.8 L197.0,330.1 L197.4,330.5 L197.9,327.9 L198.3,327.6 L198.8,326.6 L199.2,326.1 L199.5,326.9 L199.8,328.2 L200.0,328.5 L200.3,329.4 L200.6,329.2 L200.8,330.9 L201.1,330.8 L201.4,333.0 L201.8,333.1 L202.3,334.6 L202.7,334.6 L203.2,335.9 L203.6,336.7 L204.0,337.8 L204.3,338.4 L204.7,339.0 L205.1,340.1 L205.4,340.8 L205.8,341.6 L206.9,342.5 L207.9,343.5 L209.0,344.8 L210.1,342.8 L210.5,341.7 L211.0,342.0 L211.4,340.7 L211.9,339.6 L212.3,339.4 L212.6,339.0 L212.9,336.7 L213.1,337.1 L213.4,335.9 L213.7,335.4 L213.9,333.6 L214.2,334.0 L214.5,332.9 L214.9,331.7 L215.3,334.7 L215.8,335.5 L216.2,334.9 L216.3,336.6 L216.4,337.1 L216.6,338.2 L216.7,338.4 L216.8,340.0 L216.9,340.9 L217.1,341.3 L217.2,342.1 L217.3,342.0 L217.4,344.1 L217.6,343.9 L217.7,345.4 L217.8,345.8 L217.9,348.4 L218.0,347.8 L218.2,349.4 L218.3,349.4 L218.4,350.2 L218.5,351.4 L218.6,351.8 L218.7,353.9 L218.9,353.3 L219.0,355.1 L219.1,354.4 L219.2,355.3 L219.3,357.0 L219.4,356.7 L219.6,359.3 L219.7,359.3 L219.8,359.9 L219.9,361.6 L220.0,361.1 L220.2,361.8 L220.3,361.6 L220.4,362.8 L220.6,364.5 L220.7,364.4 L220.9,366.8 L221.0,367.7 L221.1,368.2 L221.3,367.9 L221.4,369.1 L221.6,369.7 L221.7,371.6 L221.8,372.6 L222.0,372.8 L222.1,373.7 L222.3,374.7 L222.5,375.8 L222.7,375.8 L222.9,376.6 L223.2,378.4 L223.4,379.1 L223.6,380.0 L223.8,380.6 L224.0,381.8 L224.4,382.5 L224.8,382.8 L225.1,384.9 L225.5,385.4 L225.9,385.5 L226.2,386.5 L226.6,387.0 L227.0,387.4 L227.4,388.4 L227.8,389.1 L228.2,390.3 L228.6,391.7 L229.0,392.3 L230.0,392.4 L231.0,394.0 L232.0,394.7 L233.0,395.1 L234.0,396.9 L235.0,396.4 L236.0,398.2 L237.0,397.5 L238.0,399.3 L239.0,399.4 L240.0,400.9 L240.8,401.5 L241.5,401.7 L242.2,403.3 L243.0,404.5 L244.0,405.2 L245.0,406.0 L246.0,405.7 L247.0,408.0 L248.0,407.4 L249.0,408.5 L250.0,408.0 L251.0,409.0 L252.0,408.5 L253.0,409.6 L254.0,408.8 L255.0,411.0 L256.0,410.9 L257.0,411.8 L258.0,412.0 L259.0,411.2 L260.0,411.2 L261.0,410.8 L262.0,409.1 L263.0,408.9 L264.0,408.8 L265.0,410.5 L266.0,410.2 L267.0,411.0 L268.0,410.4 L269.0,410.4 L270.0,409.7 L271.0,407.7 L272.0,406.6 L273.0,407.0 L274.0,405.8 L274.2,404.4 L274.3,404.1 L274.5,402.8 L274.7,402.3 L274.8,401.0 L275.0,400.7 L275.2,400.5 L275.3,399.6 L275.5,398.7 L275.7,397.2 L275.8,396.9 L276.0,395.3 L276.5,394.3 L277.0,393.6 L278.0,393.9 L278.2,393.7 L278.5,391.8 L278.8,392.7 L279.0,391.4 L280.0,389.7 L281.0,388.1 L282.0,389.7 L282.3,389.0 L282.7,387.4 L283.0,387.3 L283.2,387.8 L283.4,389.6 L283.6,390.7 L283.8,391.6 L284.0,390.9 L284.3,391.7 L284.7,394.2 L285.0,394.7 L285.2,395.7 L285.3,396.3 L285.5,396.8 L285.7,398.7 L285.8,398.8 L286.0,399.5 L286.2,399.4 L286.3,400.8 L286.5,402.3 L286.7,402.7 L286.8,403.7 L287.0,403.9 L287.2,405.3 L287.5,405.4 L287.8,406.5 L288.0,408.1 L288.3,407.6 L288.7,405.7 L289.0,404.9 L290.0,403.4 L290.3,404.4 L290.7,405.5 L291.0,407.0 L292.0,406.2 L292.5,407.0 L293.0,408.3 L293.3,406.0 L293.7,405.9 L294.0,406.1 L295.0,403.5 L296.0,402.9 L296.7,402.4 L297.3,401.9 L298.0,400.3 L299.0,398.9 L300.0,399.5 L301.0,397.8 L302.0,399.0 L302.5,400.1 L303.0,400.2 L304.0,402.5 L305.0,403.1 L305.5,402.1 L306.0,403.7 L306.5,404.8 L307.0,406.3 L307.2,406.6 L307.4,407.9 L307.6,408.6 L307.8,409.1 L308.0,410.0 L308.5,411.7 L309.0,411.9 L309.5,413.0 L310.0,413.5 L310.9,414.0 L311.7,414.6 L312.6,413.9 L313.4,413.6 L314.3,413.6 L315.1,414.7 L316.0,413.8 L316.9,414.9 L317.7,416.4 L318.6,415.5 L319.4,416.8 L320.3,416.2 L321.1,416.6 L322.0,417.3 L322.9,416.9 L323.7,416.4 L324.6,418.2 L325.4,418.2 L326.3,419.1 L327.1,420.5 L328.0,420.2 L328.9,419.3 L329.7,420.7 L330.6,419.8 L331.4,419.8 L332.3,422.6 L333.1,421.2 L334.0,420.8 L334.9,422.2 L335.7,422.3 L336.6,422.9 L337.4,422.8 L338.3,423.0 L339.1,423.8 L340.0,423.4 L340.8,423.3 L341.7,424.1 L342.5,423.8 L343.3,424.9 L344.2,424.5 L345.0,424.6 L345.8,424.6 L346.7,425.3 L347.5,425.6 L348.3,425.0 L349.2,424.0 L350.0,425.9 L350.8,424.6 L351.6,425.0 L352.4,423.9 L353.2,424.1 L354.0,423.4 L354.8,423.2 L355.6,423.0 L356.4,423.8 L357.2,424.1 L358.0,423.2 L358.2,421.9 L358.5,422.7 L358.8,422.9 L359.0,420.5 L360.0,420.5 L361.0,419.7 L362.0,419.8 L363.0,421.6 L364.0,420.0 L365.0,420.4 L366.0,419.2 L366.2,419.1 L366.3,418.8 L366.5,417.2 L366.7,416.1 L366.8,416.1 L367.0,414.4 L367.1,412.8 L367.2,413.8 L367.4,411.9 L367.5,411.5 L367.6,411.9 L367.8,410.3 L367.9,409.2 L368.0,409.2 L368.2,406.9 L368.3,405.6 L368.5,405.0 L368.7,404.9 L368.8,404.1 L369.0,402.7 L369.2,403.4 L369.5,401.7 L369.8,400.4 L370.0,398.9 L370.2,398.3 L370.5,397.6 L370.8,396.3 L371.0,397.2 L371.3,395.7 L371.7,394.2 L372.0,393.0 L372.3,391.2 L372.7,392.0 L373.0,390.1 L373.1,390.2 L373.3,388.9 L373.4,387.0 L373.6,386.9 L373.7,385.8 L373.9,384.9 L374.0,384.1 L374.5,383.2 L375.0,382.1 L375.3,381.6 L375.7,380.4 L376.0,378.9 L376.2,378.0 L376.5,376.9 L376.8,375.9 L377.0,375.1 L377.3,374.3 L377.7,373.0 L378.0,371.1 L379.0,371.8 L380.0,370.9 L381.0,371.1 L382.0,372.2 L382.5,372.5 L383.0,371.7 L383.3,373.0 L383.7,375.6 L384.0,375.6 L384.2,375.9 L384.3,376.6 L384.5,378.3 L384.7,378.8 L384.8,380.0 L385.0,380.6 L385.2,381.6 L385.3,382.2 L385.5,382.8 L385.7,384.4 L385.8,385.7 L386.0,385.1 L386.2,386.3 L386.4,388.4 L386.6,387.4 L386.8,388.2 L387.0,389.9 L387.2,390.9 L387.4,391.2 L387.6,392.7 L387.8,392.7 L388.0,393.7 L388.2,394.6 L388.4,395.7 L388.6,396.5 L388.8,398.3 L389.0,398.8 L389.2,400.1 L389.4,399.9 L389.6,400.4 L389.8,401.3 L390.0,402.2 L390.2,403.4 L390.4,403.8 L390.6,405.0 L390.8,405.9 L391.0,405.8 L392.0,406.4 L393.0,408.8 L394.0,408.2 L395.0,410.1 L396.0,409.4 L397.0,409.4 L398.0,410.0 L399.0,410.8 L400.0,413.5 L401.0,411.7 L402.0,412.3 L403.0,413.9 L404.0,415.2 L405.0,417.3 L406.0,417.7 L407.0,417.6 L408.0,420.1 L409.0,420.2 L410.0,419.4 L411.0,420.3 L412.0,420.8 L413.0,421.0 L414.0,421.4 L415.0,421.8 L416.0,422.9 L417.0,422.9 L418.0,424.5 L419.0,425.2 L420.0,423.1 L421.0,423.4 L422.0,421.9 L423.0,421.3 L424.0,420.6 L425.0,421.5 L426.0,422.5 L427.0,423.7 L427.7,424.4 L428.3,424.0 L429.0,425.6 L430.0,426.8 L431.0,427.2 L432.0,427.6 L433.0,426.9 L434.0,426.6 L435.0,425.6 L436.0,425.1 L437.0,425.8 L438.0,426.1 L439.0,426.0 L440.0,426.4 L441.0,427.1 L442.0,428.5 L443.0,427.9 L444.0,428.8 L445.0,429.5 L446.0,430.5 L447.0,430.7 L448.0,429.9 L449.0,429.6 L450.0,429.0 L451.0,429.2 L452.0,429.6 L453.0,428.8" stroke="#47b9ba" stroke-width="2.5"/>
<path d="M174.3,295.7L174.6,293.2M174.6,298.7L174.9,296.7M174.8,302.2L175.1,299.3M175.2,306.2L175.5,308.3M175.3,308.2L175.6,305.5M175.5,310.2L175.8,306.7M175.8,313.7L176.1,310.9M176.2,318.3L176.6,316.0M176.6,321.4L176.9,318.9M176.9,325.0L177.2,321.9M177.1,327.0L177.4,323.6M177.5,330.6L177.8,333.9M178.1,333.7L178.4,335.8M178.7,336.3L179.0,339.7M179.0,337.9L179.3,340.0M179.8,342.0L180.1,344.3M180.6,347.0L180.9,350.0M181.4,351.6L181.7,353.7M182.3,352.1L182.6,348.8M182.7,350.5L183.0,354.0M183.1,349.0L183.4,347.0M184.1,345.9L184.4,349.6M184.5,347.4L184.8,349.8M185.4,351.0L185.7,348.3M186.4,353.6L186.7,355.7M187.8,350.8L188.1,348.2M188.6,348.7L188.9,345.6M189.3,346.7L189.6,344.0M190.8,342.2L191.1,339.9M191.7,339.6L192.0,342.9M193.5,335.0L193.8,338.4M194.3,333.4L194.7,330.7M198.1,328.0L198.4,325.3M199.2,325.8L199.5,328.3M199.9,327.8L200.2,330.0M201.4,332.3L201.7,330.0M202.8,335.0L203.1,336.9M205.0,340.1L205.3,337.4M207.4,343.8L207.7,345.9M210.4,342.6L210.7,339.8M212.6,337.8L212.9,340.5M213.3,335.8L213.6,338.2M215.3,334.0L215.7,330.7M216.2,335.6L216.5,338.7M216.9,340.2L217.2,338.0M217.2,342.3L217.5,338.8M217.6,344.9L217.9,347.7M218.1,348.4L218.4,345.5M218.4,350.5L218.7,353.8M219.2,355.5L219.5,353.0M219.6,358.6L219.9,361.1M219.8,360.1L220.1,356.7M220.4,363.6L220.7,367.1M221.2,368.2L221.5,370.9M221.5,370.2L221.8,366.5M221.8,371.7L222.1,368.1M222.5,375.2L222.8,378.2M223.0,377.3L223.3,380.2M223.4,378.8L223.7,381.5M224.9,383.5L225.2,381.0M226.5,387.2L226.8,390.6M227.2,388.7L227.6,386.1M228.5,391.3L228.8,388.8M230.0,393.2L230.3,396.2M231.5,394.6L231.8,391.0M234.5,396.7L234.8,393.9M236.5,398.1L236.8,401.5M238.0,399.1L238.3,395.6M243.0,403.8L243.3,400.9M247.0,406.8L247.3,403.6M251.5,409.2L251.8,406.7M253.0,409.5L253.3,412.4M258.0,411.3L258.3,414.7M261.5,410.4L261.8,407.6M266.5,410.9L266.8,413.7M271.5,407.7L271.8,405.8M273.0,406.2L273.3,408.5M274.6,402.5L274.9,405.6M275.4,398.2L275.7,401.9M276.5,394.5L276.8,392.1M278.0,394.5L278.3,391.8M280.5,389.0L280.8,386.2M282.8,388.0L283.1,390.7M283.6,390.1L283.9,388.0M284.4,392.7L284.7,390.5M285.6,397.0L285.9,393.8M285.9,398.6L286.2,401.5M286.6,401.8L286.9,399.2M286.9,403.5L287.2,400.0M287.6,406.0L287.9,403.4M288.8,405.5L289.1,408.9M290.8,406.0L291.1,408.0M293.3,407.0L293.6,403.5M296.8,402.1L297.1,398.8M299.0,399.5L299.3,396.2M301.0,399.1L301.3,395.5M304.0,401.8L304.3,404.2M306.1,404.2L306.4,406.8M307.8,409.0L308.1,412.1M309.7,413.0L310.0,410.2M311.0,413.6L311.3,410.0M316.0,414.2L316.3,412.1M318.0,415.1L318.3,413.1M320.5,416.3L320.8,413.1M322.0,417.0L322.3,414.6M324.5,418.2L324.8,416.1M329.0,420.2L329.3,422.4M331.5,421.1L331.8,418.2M333.5,421.8L333.8,424.3M336.5,422.6L336.8,424.9M341.0,423.7L341.3,426.0M344.5,424.6L344.8,427.2M348.0,425.1L348.3,422.7M351.5,424.7L351.8,421.9M353.5,423.7L353.8,421.8M356.5,423.9L356.8,421.5M358.0,424.1L358.3,426.4M360.5,420.4L360.8,423.6M364.0,420.9L364.3,423.0M366.1,419.1L366.4,415.7M366.4,417.6L366.7,421.2M367.3,412.5L367.6,409.3M367.7,410.3L368.0,412.3M368.5,405.6L368.8,407.9M369.4,401.5L369.7,404.2M370.4,397.7L370.7,400.1M371.6,394.0L371.9,397.4M372.6,391.5L372.9,394.4M373.2,388.9L373.6,391.0M373.8,385.7L374.1,382.8M375.5,380.6L375.8,377.4M376.1,378.5L376.4,375.8M376.9,375.7L377.2,378.2M377.3,374.2L377.6,377.2M381.0,371.1L381.3,368.7M382.2,371.4L382.6,374.4M383.7,375.0L384.0,378.5M384.4,378.1L384.7,380.2M385.3,382.4L385.6,384.9M386.4,387.1L386.7,383.6M387.4,391.1L387.7,394.7M387.8,392.6L388.1,389.1M388.8,397.3L389.1,400.7M389.5,400.4L389.8,403.9M389.9,401.9L390.2,405.2M390.5,404.4L390.8,401.1M394.0,408.5L394.3,405.3M397.0,410.1L397.3,412.7M401.5,413.2L401.8,409.7M403.0,414.4L403.3,417.4M407.0,418.1L407.3,415.5M412.0,420.5L412.3,418.0M414.5,421.9L414.8,418.4M416.5,422.9L416.8,419.9M419.0,424.8L419.3,428.4M422.5,421.4L422.8,417.9M425.5,421.4L425.8,419.2M427.5,423.8L427.8,427.2M431.5,426.9L431.8,430.3M435.5,426.3L435.8,424.3M437.5,425.7L437.8,429.1M440.0,426.7L440.3,430.3M444.5,429.1L444.8,431.1M447.5,430.3L447.8,433.5M451.5,429.2L451.8,432.5" stroke="#47b9ba" stroke-width="1.4"/>
<path d="M99.9,398.6 L100.5,397.9 L101.2,397.0 L101.8,396.2 L102.4,395.1 L102.8,396.3 L103.2,397.0 L103.6,398.4 L104.0,398.1 L104.3,399.1 L104.6,395.3 L105.0,396.2 L105.3,395.8 L105.6,394.4 L106.4,393.7 L107.3,393.7 L108.1,393.3 L108.9,392.8 L110.1,390.9 L111.3,391.4 L111.9,390.1 L112.4,390.2 L113.0,388.5 L113.1,388.1 L113.2,387.7 L113.3,386.2 L113.4,385.7 L113.5,384.3 L113.6,383.7 L113.7,382.0 L113.8,381.8 L113.9,381.2 L114.1,380.2 L114.2,381.0 L114.3,377.7 L114.5,377.0 L114.6,377.5 L114.8,376.9 L115.0,375.8 L115.2,375.5 L115.4,375.2 L115.6,373.0 L115.8,371.7 L116.0,371.5 L116.2,371.4 L116.3,370.2 L116.5,369.0 L116.7,368.5 L116.8,367.6 L116.9,365.7 L117.1,366.1 L117.6,364.3 L118.2,363.6 L118.7,362.4 L118.8,361.9 L118.9,361.5 L119.0,360.1 L119.1,359.4 L119.2,359.0 L119.3,358.0 L119.4,356.5 L119.5,356.5 L119.6,355.0 L119.7,354.3 L119.7,353.7 L119.8,353.6 L119.9,351.5 L120.0,351.0 L120.1,350.5 L120.1,349.1 L120.2,348.8 L120.3,348.6 L120.5,346.2 L120.7,346.3 L120.9,345.1 L121.1,345.8 L121.4,344.2 L121.7,343.4 L121.9,342.1 L122.2,340.8 L122.5,340.6 L122.8,340.0 L123.2,339.0 L123.7,339.1 L124.1,337.8 L124.3,337.7 L124.4,338.8 L124.6,340.0 L124.7,340.0 L124.9,341.3 L125.0,341.9 L125.2,343.2 L126.1,343.9 L126.9,344.3 L127.2,346.2 L127.4,346.0 L127.7,347.5 L128.0,347.4 L128.2,348.2 L128.5,349.2 L128.7,350.2 L128.8,351.6 L129.0,351.2 L129.1,353.7 L129.3,353.0 L129.4,355.3 L129.6,355.4 L130.1,354.2 L130.5,354.1 L131.0,352.6 L132.6,352.1 L132.7,351.3 L132.7,352.0 L132.8,349.1 L132.9,349.8 L133.0,347.8 L133.0,346.8 L133.1,346.1 L133.2,346.2 L133.3,344.6 L133.3,343.5 L133.4,343.4 L134.2,342.4 L135.0,341.9 L135.6,339.7 L136.1,340.0 L136.7,338.8 L136.9,338.6 L137.1,339.6 L137.3,340.9 L137.5,341.3 L137.7,342.7 L137.9,343.4 L138.1,343.8 L138.3,344.0 L138.5,344.4 L138.7,346.4 L138.9,346.4 L139.1,348.5 L139.3,349.7 L139.5,349.6 L139.7,350.8 L139.9,351.8 L140.1,352.4 L140.2,352.2 L140.4,353.1 L140.6,354.2 L140.8,355.3 L140.9,355.6 L141.1,357.0 L141.3,358.4 L141.4,358.3 L141.6,359.4 L141.8,359.6 L141.9,360.9 L142.1,362.3 L142.2,363.4 L142.4,363.6 L142.6,363.9 L142.7,366.2 L142.9,364.8 L143.0,366.5 L143.2,367.1 L143.4,368.4 L143.5,369.5 L143.7,369.8 L143.8,372.8 L144.0,372.8 L144.2,373.0 L144.3,373.0 L144.5,373.3 L144.6,375.6 L144.8,376.2 L145.0,376.8 L145.1,378.2 L145.3,378.5 L145.5,378.2 L145.7,378.8 L145.8,380.4 L146.0,381.5 L146.2,382.6 L146.3,383.2 L146.5,383.8 L146.7,384.2 L146.9,385.8 L147.1,386.7 L147.3,386.8 L147.5,387.5 L147.7,388.6 L147.9,389.1 L148.1,390.6 L148.9,390.6 L149.7,392.2 L150.6,390.8 L151.4,390.7 L151.7,392.6 L152.0,391.4 L152.4,392.9 L152.7,395.0 L153.0,395.0 L154.6,395.5 L156.0,395.3 L157.0,394.1 L158.0,392.8 L159.0,391.5 L159.7,391.6 L160.3,390.6 L161.0,390.6 L161.4,389.3 L161.8,387.5 L162.2,387.8 L162.6,386.1 L163.0,386.6 L163.3,386.2 L163.6,388.1 L163.9,388.6 L164.1,389.1 L164.4,390.8 L164.7,391.0 L165.0,390.6 L165.3,393.0 L165.6,393.1 L165.9,394.3 L166.1,395.5 L166.4,396.6 L166.7,397.2 L167.0,397.4 L167.3,398.4 L167.6,399.0 L167.9,400.4 L168.1,401.0 L168.4,402.7 L168.7,402.7 L169.0,404.5 L169.3,405.8 L169.6,405.9 L169.9,406.4 L170.1,408.0 L170.4,407.8 L170.7,409.1 L171.0,410.7 L171.4,411.1 L171.9,411.6 L172.3,412.4 L172.7,413.1 L173.1,415.0 L173.6,416.2 L174.0,416.8 L174.5,416.8 L175.0,417.8 L175.5,418.0 L176.0,418.7 L176.5,420.5 L177.0,421.3 L178.0,420.9 L179.0,421.6 L180.0,423.1 L181.0,421.5 L182.0,422.2 L183.0,421.6 L184.0,419.3 L185.0,418.8 L186.0,418.5 L186.7,417.5 L187.3,415.9 L188.0,414.9 L188.7,415.8 L189.3,417.3 L190.0,418.3 L191.0,417.8 L192.0,417.7 L193.0,417.9 L194.0,418.2 L195.0,418.4 L196.0,418.2 L197.0,419.3 L198.0,420.1 L199.0,420.0 L200.0,421.3 L201.0,421.5 L202.0,422.4 L203.0,423.1 L204.0,422.2 L205.0,424.3 L206.0,425.2 L207.0,424.6 L208.0,424.9 L209.0,425.7 L210.0,426.4 L211.0,427.1 L212.0,425.7 L213.0,426.2 L214.0,425.3 L215.0,425.1 L216.0,423.9 L216.4,424.8 L216.8,425.2 L217.2,426.1 L217.6,427.6 L218.0,427.3 L218.4,428.7 L218.8,429.2 L219.2,430.2 L219.6,430.7 L220.0,432.6 L220.4,433.3 L220.9,433.5 L221.3,435.6 L221.7,435.5 L222.1,437.0 L222.6,436.5 L223.0,437.6 L223.5,438.4 L224.0,440.8 L224.5,441.0 L225.0,441.1 L225.5,442.3 L226.0,442.9 L226.6,443.7 L227.2,444.1 L227.8,445.9 L228.4,446.4 L229.0,446.5 L230.0,447.2 L231.0,447.5 L232.0,447.1 L232.8,446.9 L233.6,447.6 L234.4,447.7 L235.2,448.5 L236.0,447.3 L236.9,448.0 L237.7,448.0 L238.6,447.9 L239.4,448.4 L240.3,447.8 L241.1,448.3 L242.0,448.2 L242.9,449.3 L243.7,449.1 L244.6,449.0 L245.4,449.5 L246.3,450.2 L247.1,449.9 L248.0,448.9 L248.9,451.5 L249.7,450.0 L250.6,450.6 L251.4,449.4 L252.3,449.7 L253.1,449.9 L254.0,449.9 L254.9,449.5 L255.7,450.7 L256.6,449.4 L257.4,449.6 L258.3,450.9 L259.1,449.8 L260.0,448.8 L260.8,449.9 L261.6,449.7 L262.4,449.9 L263.2,450.0 L264.0,448.8 L265.0,448.4 L266.0,446.9 L267.0,445.5 L267.6,444.6 L268.2,443.6 L268.8,442.3 L269.4,443.1 L270.0,440.9 L270.4,439.7 L270.8,439.6 L271.2,438.1 L271.6,438.6 L272.0,438.2 L272.4,436.5 L272.8,435.2 L273.2,434.2 L273.6,433.7 L274.0,433.0 L274.2,432.2 L274.3,430.6 L274.5,430.2 L274.7,428.5 L274.8,428.6 L275.0,428.2 L275.2,427.4 L275.5,425.5 L275.8,424.3 L276.0,425.4 L276.5,423.2 L277.0,422.0 L278.0,421.1 L278.2,419.9 L278.5,419.5 L278.8,418.7 L279.0,417.1 L279.2,417.6 L279.5,418.9 L279.8,418.3 L280.0,421.4 L281.0,421.2 L282.0,420.3 L282.2,421.9 L282.4,422.9 L282.6,423.1 L282.8,423.7 L283.0,424.1 L283.2,425.4 L283.3,426.4 L283.5,426.8 L283.7,428.5 L283.8,429.6 L284.0,430.2 L284.2,432.4 L284.3,432.3 L284.5,433.4 L284.7,436.0 L284.8,435.9 L285.0,436.0 L285.2,436.9 L285.4,437.4 L285.6,438.5 L285.8,439.1 L286.0,439.2 L286.4,440.2 L286.8,442.3 L287.2,443.8 L287.6,443.9 L288.0,444.1 L288.7,444.9 L289.3,447.3 L290.0,448.4 L291.0,448.2 L292.0,447.8 L293.0,447.8 L294.0,448.9 L295.0,448.4 L296.0,448.2 L296.8,447.7 L297.6,448.7 L298.4,449.1 L299.2,448.9 L300.0,450.3 L300.8,449.1 L301.7,450.3 L302.5,449.9 L303.3,449.8 L304.2,450.5 L305.0,449.5 L305.8,451.0 L306.7,450.1 L307.5,450.2 L308.3,450.9 L309.2,450.8 L310.0,450.3 L310.8,451.7 L311.6,451.2 L312.4,452.2 L313.2,452.3 L314.0,453.1 L314.9,453.8 L315.7,453.5 L316.6,453.3 L317.4,454.6 L318.3,454.5 L319.1,453.9 L320.0,454.3 L320.9,454.3 L321.7,456.0 L322.6,454.7 L323.4,455.4 L324.3,455.0 L325.1,455.0 L326.0,454.7 L326.9,453.5 L327.7,454.5 L328.6,454.7 L329.4,454.2 L330.3,455.5 L331.1,454.6 L332.0,454.6 L332.9,453.4 L333.7,455.1 L334.6,455.2 L335.4,453.8 L336.3,453.9 L337.1,455.1 L338.0,453.9 L338.9,454.7 L339.7,454.4 L340.6,455.3 L341.4,454.5 L342.3,454.8 L343.1,454.4 L344.0,453.5 L344.9,454.5 L345.7,455.3 L346.6,454.4 L347.4,454.6 L348.3,454.5 L349.1,454.8 L350.0,454.7 L350.8,454.8 L351.7,453.3 L352.5,452.5 L353.3,453.8 L354.2,452.6 L355.0,452.6 L356.0,452.5 L357.0,450.5 L358.0,451.5 L359.0,450.4 L360.0,449.1 L361.0,450.5 L362.0,450.8 L363.0,450.2 L364.0,449.4 L365.0,451.3 L366.0,451.3 L366.5,449.9 L367.0,448.1 L367.2,447.4 L367.5,446.8 L367.8,446.5 L368.0,444.0 L368.7,444.5 L369.3,443.5 L370.0,442.0 L370.7,441.0 L371.3,439.5 L372.0,438.7 L372.3,438.5 L372.7,437.1 L373.0,436.5 L373.7,435.4 L374.3,434.0 L375.0,433.9 L376.0,433.1 L377.0,432.0 L377.2,430.4 L377.5,428.4 L377.8,428.7 L378.0,426.5 L378.3,427.3 L378.7,425.0 L379.0,423.8 L379.5,423.8 L380.0,422.3 L380.5,421.2 L381.0,421.0 L381.5,419.1 L382.0,418.7 L382.3,419.5 L382.7,420.3 L383.0,421.1 L384.0,422.3 L384.5,422.2 L385.0,424.2 L385.5,423.3 L386.0,421.5 L386.5,423.6 L387.0,424.2 L387.2,424.6 L387.3,426.3 L387.5,426.3 L387.7,427.2 L387.8,428.2 L388.0,428.9 L388.2,430.2 L388.4,431.3 L388.6,431.3 L388.8,432.7 L389.0,433.2 L389.2,434.2 L389.5,434.7 L389.8,436.4 L390.0,436.8 L390.5,435.9 L391.0,434.9 L391.7,435.5 L392.3,437.1 L393.0,437.5 L393.3,437.9 L393.7,440.1 L394.0,441.5 L394.2,441.1 L394.5,442.8 L394.8,442.9 L395.0,444.3 L396.0,445.5 L397.0,445.5 L398.0,446.0 L399.0,446.9 L399.7,448.2 L400.3,449.1 L401.0,449.3 L402.0,450.9 L403.0,453.0 L404.0,452.4 L405.0,451.8 L406.0,452.6 L407.0,451.5 L408.0,451.6 L409.0,451.8 L410.0,453.0 L411.0,453.7 L412.0,452.9 L413.0,452.4 L414.0,451.0 L415.0,452.5 L416.0,452.7 L416.8,451.5 L417.6,453.1 L418.4,452.2 L419.2,452.0 L420.0,452.4 L420.8,453.0 L421.6,451.9 L422.4,452.5 L423.2,452.9 L424.0,452.0 L424.8,452.8 L425.6,452.2 L426.4,452.1 L427.2,452.4 L428.0,452.7 L428.8,453.2 L429.6,453.5 L430.4,453.1 L431.2,452.8 L432.0,452.9 L432.8,452.6 L433.6,451.7 L434.4,452.8 L435.2,453.3 L436.0,451.9 L436.8,452.5 L437.6,452.3 L438.4,452.1 L439.2,451.5 L440.0,451.2 L440.9,452.1 L441.7,452.1 L442.6,451.6 L443.4,452.4 L444.3,451.9 L445.1,452.1 L446.0,451.8 L446.8,452.5 L447.7,451.7 L448.5,451.3 L449.3,450.3 L450.2,451.9 L451.0,450.6" stroke="#000000" stroke-width="2.4"/>
<path d="M101.6,396.5L101.9,398.5M102.9,396.5L103.2,399.7M104.6,397.1L104.9,394.2M107.3,393.7L107.6,396.4M110.1,391.7L110.4,394.0M112.3,389.8L112.6,386.8M113.2,386.8L113.5,390.0M113.6,383.8L113.9,380.7M114.3,379.0L114.6,381.2M115.2,374.9L115.5,371.5M116.1,371.3L116.4,369.1M117.0,366.4L117.3,363.7M118.4,363.2L118.7,366.2M118.9,360.7L119.2,357.9M119.5,356.1L119.8,353.4M120.0,351.0L120.3,348.9M120.2,348.5L120.5,346.2M121.1,344.7L121.4,341.9M122.0,342.0L122.3,343.9M123.8,338.0L124.1,340.0M124.3,338.4L124.6,335.2M125.0,342.1L125.3,345.0M127.3,345.8L127.6,343.5M128.7,350.6L129.0,352.5M129.3,353.7L129.6,357.2M131.5,352.6L131.8,349.5M132.8,349.6L133.1,346.7M133.0,347.1L133.3,349.8M134.5,342.0L134.8,339.1M136.1,339.3L136.4,342.5M137.4,341.2L137.7,344.5M138.1,343.7L138.4,341.8M138.7,346.2L139.0,344.2M139.4,349.2L139.7,346.6M139.8,350.7L140.1,348.7M140.8,355.3L141.1,358.6M141.4,358.4L141.7,360.3M142.4,363.5L142.7,360.7M143.0,366.6L143.3,369.8M143.5,369.1L143.8,365.7M143.9,371.2L144.2,373.5M144.8,375.8L145.1,372.4M145.4,378.8L145.7,376.7M146.3,382.9L146.6,380.7M146.9,385.4L147.2,383.5M147.9,389.5L148.2,387.1M148.6,391.0L148.9,388.9M152.4,393.0L152.7,390.9M157.0,394.3L157.3,392.2M160.7,390.5L161.0,393.0M161.5,389.0L161.8,391.4M162.5,387.0L162.8,389.2M163.5,387.5L163.8,390.7M165.0,392.0L165.3,389.5M166.0,395.0L166.3,397.8M167.0,398.0L167.3,395.7M168.7,403.0L169.0,405.4M170.3,408.0L170.6,406.2M171.0,410.0L171.3,413.3M172.0,412.0L172.3,408.6M173.5,415.0L173.8,411.9M175.8,419.0L176.1,417.2M178.5,422.0L178.8,419.3M182.0,421.7L182.3,418.8M183.5,420.5L183.8,423.0M187.0,416.5L187.3,413.9M189.7,417.5L190.0,415.2M193.5,418.2L193.8,420.4M196.5,419.2L196.8,416.9M199.0,420.0L199.3,417.3M203.0,422.7L203.3,419.6M208.0,426.0L208.3,423.8M213.0,426.3L213.3,423.3M216.0,424.0L216.3,426.2M217.2,426.5L217.6,423.4M219.0,430.0L219.3,433.1M221.5,435.0L221.8,436.9M222.2,436.5L222.6,438.6M223.9,439.5L224.2,437.6M225.4,442.0L225.7,439.2M227.1,444.5L227.4,447.9M229.5,447.0L229.8,445.1M234.0,447.3L234.3,449.5M235.5,447.5L235.8,449.8M239.0,448.3L239.3,450.2M242.5,449.1L242.8,447.0M245.0,449.7L245.3,447.3M246.5,450.0L246.8,452.1M248.0,450.4L248.3,453.8M253.0,449.9L253.3,453.0M254.5,449.8L254.8,451.8M258.5,449.8L258.8,446.8M261.5,449.4L261.8,447.3M263.5,448.9L263.8,451.8M267.7,445.0L268.0,448.3M270.8,439.8L271.1,442.6M271.5,438.2L271.8,440.9M273.1,434.6L273.4,437.7M273.8,433.0L274.1,436.0M274.3,430.9L274.6,428.3M274.9,428.2L275.2,425.9M276.0,424.3L276.3,420.9M278.3,419.8L278.6,422.6M278.8,418.1L279.1,420.7M280.5,421.2L280.8,418.8M282.6,423.5L282.9,420.3M283.7,428.8L284.0,426.1M284.4,432.4L284.7,434.5M285.0,435.9L285.3,433.4M285.4,437.4L285.7,439.9M287.1,442.6L287.4,445.4M289.6,446.9L289.9,444.3M292.5,448.0L292.8,445.0M296.5,448.9L296.8,451.3M300.5,449.6L300.8,452.5M304.5,450.1L304.8,448.1M308.0,450.6L308.3,453.4M311.0,451.4L311.3,449.3M312.5,452.3L312.8,454.5M317.0,453.9L317.3,451.3M319.5,454.5L319.8,457.5M322.0,454.6L322.3,457.2M324.0,454.6L324.3,457.3M327.5,454.6L327.8,457.7M330.5,454.6L330.8,452.5M332.0,454.6L332.3,451.8M335.0,454.6L335.3,451.3M337.0,454.6L337.3,452.5M339.0,454.6L339.3,451.7M342.5,454.6L342.8,456.9M345.5,454.6L345.8,452.1M348.5,454.5L348.8,451.9M350.0,454.5L350.3,457.4M353.5,453.2L353.8,455.9M356.0,451.7L356.3,448.7M358.5,450.5L358.8,453.8M362.5,450.5L362.8,452.5M364.5,449.8L364.8,452.7M367.1,447.9L367.4,450.5M367.9,445.3L368.2,442.1M370.0,441.8L370.3,439.9M372.0,438.8L372.3,435.5M372.8,436.3L373.1,439.3M377.0,431.0L377.3,433.8M378.3,426.4L378.6,429.7M379.2,423.8L379.6,427.0M381.7,419.0L382.0,422.1M382.8,420.2L383.1,416.9M385.2,423.8L385.6,421.7M386.5,423.2L386.8,420.9M387.9,428.7L388.2,426.8M388.2,430.2L388.6,433.2M389.0,433.4L389.3,435.7M389.7,436.0L390.0,432.8M390.7,435.8L391.0,438.9M393.0,437.6L393.3,435.2M393.5,439.1L393.8,441.4M395.0,444.2L395.3,441.8M397.0,446.0L397.3,443.0M401.0,449.6L401.3,446.9M406.0,452.4L406.3,454.4M410.5,452.5L410.8,455.7M414.0,451.4L414.3,453.8M418.0,452.0L418.3,449.0M421.0,452.0L421.3,454.0M423.0,452.0L423.3,455.2M425.5,452.1L425.8,455.3M430.5,452.7L430.8,450.2M433.5,452.7L433.8,449.6M435.0,452.5L435.3,455.0M438.5,452.1L438.8,449.5M443.5,452.0L443.8,449.5M445.5,452.0L445.8,454.5M448.5,451.3L448.8,448.2" stroke="#000000" stroke-width="1.4"/>
<path d="M25.0,463.7 L25.5,463.7 L26.0,463.7 L26.5,463.7 L27.0,463.7 L27.5,463.7 L28.0,463.7 L28.5,463.7 L29.0,463.7 L29.5,463.7 L30.0,463.7 L30.5,463.6 L31.0,463.6 L31.5,463.6 L32.0,463.6 L32.5,463.6 L33.0,463.6 L33.5,463.6 L34.0,463.6 L34.5,463.6 L35.0,463.5 L35.5,463.5 L36.0,463.5 L36.5,463.5 L37.0,463.5 L37.5,463.5 L38.0,463.4 L38.5,463.4 L39.0,463.4 L39.5,463.4 L40.0,463.4 L40.5,463.3 L41.0,463.3 L41.5,463.3 L42.0,463.3 L42.5,463.2 L43.0,463.2 L43.5,463.2 L44.0,463.1 L44.5,463.1 L45.0,463.1 L45.5,463.0 L46.0,463.0 L46.5,462.9 L47.0,462.9 L47.5,462.8 L48.0,462.8 L48.5,462.7 L49.0,462.6 L49.5,462.5 L50.0,462.4 L50.5,462.2 L51.0,462.0 L51.5,461.8 L52.0,461.5 L52.5,461.1 L53.0,460.7 L53.5,460.0 L54.0,459.2 L54.5,458.2 L55.0,457.0 L55.5,455.4 L56.0,453.4 L56.5,451.0 L57.0,448.1 L57.5,444.6 L58.0,440.4 L58.5,435.6 L59.0,430.1 L59.5,423.9 L60.0,416.9 L60.5,409.2 L61.0,401.0 L61.5,392.2 L62.0,383.1 L62.5,373.8 L63.0,364.5 L63.5,355.5 L64.0,347.0 L64.5,339.2 L65.0,332.5 L65.5,327.0 L66.0,322.9 L66.5,320.4 L67.0,319.5 L67.5,320.4 L68.0,322.9 L68.5,327.0 L69.0,332.5 L69.5,339.2 L70.0,347.0 L70.5,355.5 L71.0,364.5 L71.5,373.8 L72.0,383.1 L72.5,392.2 L73.0,401.0 L73.5,409.2 L74.0,416.9 L74.5,423.9 L75.0,430.1 L75.5,435.6 L76.0,440.4 L76.5,444.6 L77.0,448.1 L77.5,451.0 L78.0,453.4 L78.5,455.4 L79.0,457.0 L79.5,458.2 L80.0,459.2 L80.5,460.0 L81.0,460.7 L81.5,461.1 L82.0,461.5 L82.5,461.8 L83.0,462.0 L83.5,462.2 L84.0,462.4 L84.5,462.5 L85.0,462.6 L85.5,462.7 L86.0,462.8 L86.5,462.8 L87.0,462.9 L87.5,462.9 L88.0,463.0 L88.5,463.0 L89.0,463.1 L89.5,463.1 L90.0,463.1 L90.5,463.2 L91.0,463.2 L91.5,463.2 L92.0,463.3 L92.5,463.3 L93.0,463.3 L93.5,463.3 L94.0,463.4 L94.5,463.4 L95.0,463.4 L95.5,463.4 L96.0,463.4 L96.5,463.5 L97.0,463.5 L97.5,463.5 L98.0,463.5 L98.5,463.5 L99.0,463.5 L99.5,463.6 L100.0,463.6 L100.5,463.6 L101.0,463.6 L101.5,463.6 L102.0,463.6 L102.5,463.6 L103.0,463.6 L103.5,463.6 L104.0,463.7 L104.5,463.7" stroke="#2646a3" stroke-width="2.2"/>
</g>
<g fill="none" stroke="#333" stroke-width="1.5" stroke-dasharray="6.4,2.4,1.5,2.4">
<polyline points="123.0,97.5 123.0,142"/>
<polyline points="123.0,97.5 140.6,88.3"/>
<polyline points="135.6,112.8 135.6,158"/>
<polyline points="135.6,112.8 148.3,104.4"/>
<polyline points="162.4,127.6 162.4,405"/>
<polyline points="162.4,127.6 176.2,120.1"/>
<polyline points="188.2,152.6 188.2,202"/>
<polyline points="188.2,152.6 205.3,142.8"/>
<polyline points="216.3,166.6 216.3,426"/>
<polyline points="216.3,166.6 231.0,156.2"/>
<polyline points="278.9,171.8 278.9,218"/>
<polyline points="278.9,171.8 289.9,163.0"/>
<polyline points="380.2,153.0 380.2,448"/>
<polyline points="380.2,153.0 365.1,144.3"/>
<polyline points="199.7,254.6 199.7,344"/>
<polyline points="199.7,254.6 196.7,249.1"/>
<polyline points="303.2,280.4 303.2,412"/>
<polyline points="303.2,280.4 311.5,273.8"/>
<polyline points="279.2,367.6 279.2,446"/>
<polyline points="279.2,367.6 273.5,363.3"/>
<polyline points="123.8,381.4 123.8,327"/>
<polyline points="123.8,381.4 116.1,402.8"/>
<polyline points="135.7,386.2 135.7,330"/>
<polyline points="135.7,386.2 118.6,430.1"/>
<polyline points="187.4,436.5 187.4,401"/>
<polyline points="187.4,436.5 178.2,443.4"/>
<polyline points="118.2,318 118.2,187.4"/>
<polyline points="143.1,167 143.1,291.1"/>
</g>
<g fill="#000">
<polygon points="148.8,84.0 140.8,91.9 137.7,86.1"/>
<polygon points="156.0,99.2 148.8,107.9 145.2,102.4"/>
<polygon points="184.4,115.6 176.5,123.7 173.3,117.9"/>
<polygon points="213.4,138.2 205.7,146.4 202.4,140.7"/>
<polygon points="238.6,150.8 231.7,159.7 227.9,154.4"/>
<polygon points="297.2,157.2 290.8,166.5 286.7,161.4"/>
<polygon points="357.1,139.6 368.1,142.2 364.8,147.9"/>
<polygon points="192.2,241.0 200.3,248.9 194.5,252.1"/>
<polygon points="318.8,268.0 312.4,277.3 308.3,272.1"/>
<polygon points="266.0,357.8 276.6,361.6 272.7,366.9"/>
<polygon points="113.0,411.6 113.5,400.3 119.7,402.5"/>
<polygon points="115.2,438.8 116.0,427.5 122.2,429.9"/>
<polygon points="170.8,449.0 177.4,439.9 181.4,445.1"/>
<polygon points="118.2,178.1 121.5,188.9 114.9,188.9"/>
<polygon points="143.1,300.4 139.8,289.6 146.4,289.6"/>
</g>
<g stroke="#000" stroke-width="2" fill="none">
<rect x="14" y="1" width="480" height="490"/>
<line x1="40.5" y1="486" x2="40.5" y2="490"/>
<line x1="66.6" y1="482" x2="66.6" y2="490"/>
<line x1="92.7" y1="486" x2="92.7" y2="490"/>
<line x1="118.8" y1="482" x2="118.8" y2="490"/>
<line x1="144.9" y1="486" x2="144.9" y2="490"/>
<line x1="170.9" y1="482" x2="170.9" y2="490"/>
<line x1="197.0" y1="486" x2="197.0" y2="490"/>
<line x1="223.1" y1="482" x2="223.1" y2="490"/>
<line x1="249.2" y1="486" x2="249.2" y2="490"/>
<line x1="275.3" y1="482" x2="275.3" y2="490"/>
<line x1="301.4" y1="486" x2="301.4" y2="490"/>
<line x1="327.5" y1="482" x2="327.5" y2="490"/>
<line x1="353.6" y1="486" x2="353.6" y2="490"/>
<line x1="379.6" y1="482" x2="379.6" y2="490"/>
<line x1="405.7" y1="486" x2="405.7" y2="490"/>
<line x1="431.8" y1="482" x2="431.8" y2="490"/>
<line x1="457.9" y1="486" x2="457.9" y2="490"/>
<line x1="484.0" y1="482" x2="484.0" y2="490"/>
</g>
<g stroke="#000" stroke-width="1.4" fill="none">
<line x1="39" y1="398.3" x2="55" y2="398.3"/>
<line x1="78" y1="398.3" x2="93" y2="398.3"/>
</g>
<g fill="#000">
<polygon points="61,398.3 50,394.8 50,401.8"/>
<polygon points="72.5,398.3 83.5,394.8 83.5,401.8"/>
</g>
<g font-weight="bold" font-size="14.8" text-anchor="middle" stroke="#000" stroke-width="0.25">
<text x="14.4" y="511">-500</text>
<text x="66.6" y="511">0</text>
<text x="118.8" y="511">500</text>
<text x="170.9" y="511">1000</text>
<text x="223.1" y="511">1500</text>
<text x="275.3" y="511">2000</text>
<text x="327.5" y="511">2500</text>
<text x="379.6" y="511">3000</text>
<text x="431.8" y="511">3500</text>
<text x="484.0" y="511">4000</text>
</g>
<text x="37" y="47.3" font-weight="bold" font-size="14.8" letter-spacing="0.3" stroke="#000" stroke-width="0.3">HREELS</text>
<text class="serif" x="232.3" y="50.1" font-weight="bold" font-size="18.4" textLength="235.5" lengthAdjust="spacingAndGlyphs" stroke="#000" stroke-width="0.2">chloroacetonitrile/Si(111)-7x7</text>
<text class="serif" x="346.2" y="74.7" font-weight="bold" font-size="19" text-anchor="middle" stroke="#000" stroke-width="0.2">110K</text>
<g font-weight="bold" font-size="19" stroke="#000" stroke-width="0.3">
<text x="169.5" y="546.6" textLength="116" lengthAdjust="spacingAndGlyphs">Wavenumber</text>
<text x="291.5" y="546.6">(</text>
<text x="300" y="546.6" textLength="25.5" lengthAdjust="spacingAndGlyphs">cm</text>
<text x="326.5" y="536" font-size="11">-1</text>
<text x="337.5" y="546.6">)</text>
</g>
<g font-weight="bold" font-size="13" stroke="#000" stroke-width="0.4">
<text x="151.6" y="84.3">545</text>
<text x="159" y="99.8">662</text>
<text x="185.6" y="112">918</text>
<text x="213.2" y="134">1168</text>
<text x="238.4" y="149.2">1440</text>
<text x="298.2" y="152.8">2036</text>
<text x="336.8" y="134.3">3010</text>
<text x="180.4" y="235.8">1281</text>
<text x="318.8" y="262.8">2266</text>
<text x="246.6" y="354.4">2036</text>
<text x="92" y="421.2">545</text>
<text x="94.7" y="450">662</text>
<text x="140" y="456.6">1168</text>
<text transform="translate(122.7,176) rotate(-90)">482</text>
<text transform="translate(147.2,325) rotate(-90)">735</text>
</g>
<g font-weight="bold" font-size="15.2" stroke="#000" stroke-width="0.25">
<text x="463.3" y="200.8">(d)</text>
<text x="463.3" y="337.6">(c)</text>
<text x="463.3" y="430.4">(b)</text>
<text x="463.3" y="455.3">(a)</text>
</g>
<text x="422.5" y="191.8" font-size="14" textLength="29.8" lengthAdjust="spacingAndGlyphs">300K</text>
<text x="24.8" y="385.3" font-size="12.2" textLength="25.6" lengthAdjust="spacingAndGlyphs">70cm</text>
<text x="51.4" y="380.4" font-size="7.6" textLength="4.6" lengthAdjust="spacingAndGlyphs">-1</text>
</svg>
</body></html>
